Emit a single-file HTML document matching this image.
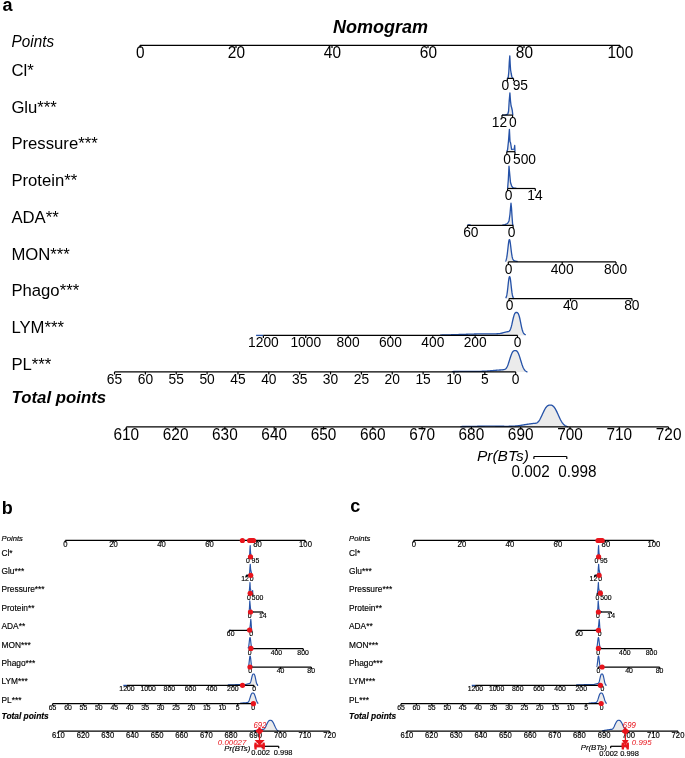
<!DOCTYPE html>
<html><head><meta charset="utf-8"><title>Nomogram</title>
<style>
html,body{margin:0;padding:0;background:#fff;}
svg{display:block;filter:blur(0.3px);}
.sm text{stroke:#000;stroke-width:0.3px;}
</style></head>
<body>
<svg width="685" height="758" viewBox="0 0 685 758" font-family="'Liberation Sans', Arial, Helvetica, sans-serif" fill="#000">
<rect width="685" height="758" fill="#fff"/>
<text x="2.4" y="10.9" font-size="18" font-weight="bold">a</text>
<text x="333.1" y="33" font-size="18" font-weight="bold" font-style="italic">Nomogram</text>
<g id="pa">
<text transform="translate(11.6,46.7) scale(1,1.04)" font-size="15.3" font-style="italic">Points</text>
<line x1="140" y1="45.3" x2="620" y2="45.3" stroke="#000" stroke-width="1.2"/>
<line x1="140" y1="45.3" x2="140" y2="47.9" stroke="#000" stroke-width="1.2"/>
<text transform="translate(140.4,57.9) scale(1,1.06)" font-size="15.4" text-anchor="middle">0</text>
<line x1="236" y1="45.3" x2="236" y2="47.9" stroke="#000" stroke-width="1.2"/>
<text transform="translate(236.4,57.9) scale(1,1.06)" font-size="15.4" text-anchor="middle">20</text>
<line x1="332" y1="45.3" x2="332" y2="47.9" stroke="#000" stroke-width="1.2"/>
<text transform="translate(332.4,57.9) scale(1,1.06)" font-size="15.4" text-anchor="middle">40</text>
<line x1="428" y1="45.3" x2="428" y2="47.9" stroke="#000" stroke-width="1.2"/>
<text transform="translate(428.4,57.9) scale(1,1.06)" font-size="15.4" text-anchor="middle">60</text>
<line x1="524" y1="45.3" x2="524" y2="47.9" stroke="#000" stroke-width="1.2"/>
<text transform="translate(524.4,57.9) scale(1,1.06)" font-size="15.4" text-anchor="middle">80</text>
<line x1="620" y1="45.3" x2="620" y2="47.9" stroke="#000" stroke-width="1.2"/>
<text transform="translate(620.4,57.9) scale(1,1.06)" font-size="15.4" text-anchor="middle">100</text>
<text x="11.4" y="76.1" font-size="16.7">Cl*</text>
<path d="M507.3,78.4 L507.3,78.4 L508.2,77.6 L508.8,72 L509.3,62 L509.8,55.8 L510.2,64 L510.6,70 L511.2,73.5 L511.8,76.5 L512.5,78 L513.4,78.4 L513.4,78.4 Z" fill="#ebebeb" stroke="none"/><path d="M507.3,78.4 L508.2,77.6 L508.8,72 L509.3,62 L509.8,55.8 L510.2,64 L510.6,70 L511.2,73.5 L511.8,76.5 L512.5,78 L513.4,78.4" fill="none" stroke="#2552a8" stroke-width="1.32" stroke-linejoin="round"/>
<line x1="507.3" y1="78.4" x2="513.5" y2="78.4" stroke="#000" stroke-width="1.2"/>
<line x1="507.3" y1="78.4" x2="507.3" y2="81" stroke="#000" stroke-width="1.2"/>
<line x1="513.5" y1="78.4" x2="513.5" y2="81" stroke="#000" stroke-width="1.2"/>
<text transform="translate(505.3,90.2) scale(1,1.03)" font-size="13.8" text-anchor="middle">0</text>
<text transform="translate(520.3,90.2) scale(1,1.03)" font-size="13.8" text-anchor="middle">95</text>
<text x="11.4" y="112.8" font-size="16.7">Glu***</text>
<path d="M502,115.1 L502,115.1 L505.5,114.8 L507.8,114.2 L508.6,111 L509.2,101 L509.9,93 L510.5,101 L511.1,106 L511.6,107.5 L512.3,110.5 L512.8,115.1 L512.8,115.1 Z" fill="#ebebeb" stroke="none"/><path d="M502,115.1 L505.5,114.8 L507.8,114.2 L508.6,111 L509.2,101 L509.9,93 L510.5,101 L511.1,106 L511.6,107.5 L512.3,110.5 L512.8,115.1" fill="none" stroke="#2552a8" stroke-width="1.32" stroke-linejoin="round"/>
<line x1="502.0" y1="115.1" x2="512.6" y2="115.1" stroke="#000" stroke-width="1.2"/>
<line x1="502" y1="115.1" x2="502" y2="117.7" stroke="#000" stroke-width="1.2"/>
<line x1="512.6" y1="115.1" x2="512.6" y2="117.7" stroke="#000" stroke-width="1.2"/>
<text transform="translate(499.4,126.9) scale(1,1.03)" font-size="13.8" text-anchor="middle">12</text>
<text transform="translate(512.8,126.9) scale(1,1.03)" font-size="13.8" text-anchor="middle">0</text>
<text x="11.4" y="149.4" font-size="16.7">Pressure***</text>
<path d="M506.8,151.7 L506.8,151.7 L507.6,149.5 L508.5,141 L509.4,129.4 L510,141.5 L510.6,143 L511.6,149.3 L514.2,149.2 L514.7,145.5 L515,151.7 L515,151.7 Z" fill="#ebebeb" stroke="none"/><path d="M506.8,151.7 L507.6,149.5 L508.5,141 L509.4,129.4 L510,141.5 L510.6,143 L511.6,149.3 L514.2,149.2 L514.7,145.5 L515,151.7" fill="none" stroke="#2552a8" stroke-width="1.32" stroke-linejoin="round"/>
<line x1="506.8" y1="151.7" x2="515.0" y2="151.7" stroke="#000" stroke-width="1.2"/>
<line x1="506.8" y1="151.7" x2="506.8" y2="154.3" stroke="#000" stroke-width="1.2"/>
<line x1="515" y1="151.7" x2="515" y2="154.3" stroke="#000" stroke-width="1.2"/>
<text transform="translate(507.2,163.5) scale(1,1.03)" font-size="13.8" text-anchor="middle">0</text>
<text transform="translate(524.5,163.5) scale(1,1.03)" font-size="13.8" text-anchor="middle">500</text>
<text x="11.4" y="186.2" font-size="16.7">Protein**</text>
<path d="M507.6,188.5 L507.6,188.5 L508.3,180 L509,166.2 L509.8,175 L510.5,182.5 L511.6,185.8 L512.8,187.6 L514,188 L516.5,188.3 L516.5,188.5 Z" fill="#ebebeb" stroke="none"/><path d="M507.6,188.5 L508.3,180 L509,166.2 L509.8,175 L510.5,182.5 L511.6,185.8 L512.8,187.6 L514,188 L516.5,188.3" fill="none" stroke="#2552a8" stroke-width="1.32" stroke-linejoin="round"/>
<line x1="507.6" y1="188.5" x2="535.3" y2="188.5" stroke="#000" stroke-width="1.2"/>
<line x1="507.6" y1="188.5" x2="507.6" y2="191.1" stroke="#000" stroke-width="1.2"/>
<line x1="535.3" y1="188.5" x2="535.3" y2="191.1" stroke="#000" stroke-width="1.2"/>
<text transform="translate(508.5,200.3) scale(1,1.03)" font-size="13.8" text-anchor="middle">0</text>
<text transform="translate(535,200.3) scale(1,1.03)" font-size="13.8" text-anchor="middle">14</text>
<text x="11.4" y="223" font-size="16.7">ADA**</text>
<path d="M467.5,225.3 L467.5,224.9 L469.5,225 L471,225.3 L502,225.3 L505,224.6 L507.5,223.5 L509,221 L510,214 L510.6,207 L511,203.2 L511.5,208 L512,216 L512.6,224 L513.1,225.3 L513.1,225.3 Z" fill="#ebebeb" stroke="none"/><path d="M467.5,224.9 L469.5,225 L471,225.3 M502,225.3 L505,224.6 L507.5,223.5 L509,221 L510,214 L510.6,207 L511,203.2 L511.5,208 L512,216 L512.6,224 L513.1,225.3" fill="none" stroke="#2552a8" stroke-width="1.32" stroke-linejoin="round"/>
<line x1="467.5" y1="225.3" x2="513.1" y2="225.3" stroke="#000" stroke-width="1.2"/>
<line x1="467.5" y1="225.3" x2="467.5" y2="227.9" stroke="#000" stroke-width="1.2"/>
<line x1="513.1" y1="225.3" x2="513.1" y2="227.9" stroke="#000" stroke-width="1.2"/>
<text transform="translate(470.8,237.1) scale(1,1.03)" font-size="13.8" text-anchor="middle">60</text>
<text transform="translate(511.7,237.1) scale(1,1.03)" font-size="13.8" text-anchor="middle">0</text>
<text x="11.4" y="259.6" font-size="16.7">MON***</text>
<path d="M505.3,261.9 L505.3,261.41 L505.55,261.13 L505.8,260.73 L506.05,260.16 L506.3,259.4 L506.55,258.4 L506.79,257.13 L507.04,255.59 L507.29,253.78 L507.54,251.73 L507.79,249.53 L508.04,247.27 L508.29,245.07 L508.54,243.07 L508.79,241.42 L509.04,240.23 L509.29,239.6 L509.54,239.57 L509.78,240.15 L510.03,241.28 L510.28,242.86 L510.53,244.77 L510.78,246.87 L511.03,249.02 L511.28,251.09 L511.53,253.01 L511.78,254.7 L512.03,256.13 L512.28,257.3 L512.53,258.23 L512.77,258.94 L513.02,259.47 L513.27,259.87 L513.52,260.16 L513.77,260.37 L514.02,260.54 L514.27,260.67 L514.52,260.78 L514.77,260.87 L515.02,260.95 L515.27,261.02 L515.52,261.09 L515.76,261.16 L516.01,261.22 L516.26,261.28 L516.51,261.34 L516.76,261.39 L517.01,261.45 L517.26,261.5 L517.51,261.9 L520,261.9 L520,261.9 Z" fill="#ebebeb" stroke="none"/><path d="M505.3,261.41 L505.55,261.13 L505.8,260.73 L506.05,260.16 L506.3,259.4 L506.55,258.4 L506.79,257.13 L507.04,255.59 L507.29,253.78 L507.54,251.73 L507.79,249.53 L508.04,247.27 L508.29,245.07 L508.54,243.07 L508.79,241.42 L509.04,240.23 L509.29,239.6 L509.54,239.57 L509.78,240.15 L510.03,241.28 L510.28,242.86 L510.53,244.77 L510.78,246.87 L511.03,249.02 L511.28,251.09 L511.53,253.01 L511.78,254.7 L512.03,256.13 L512.28,257.3 L512.53,258.23 L512.77,258.94 L513.02,259.47 L513.27,259.87 L513.52,260.16 L513.77,260.37 L514.02,260.54 L514.27,260.67 L514.52,260.78 L514.77,260.87 L515.02,260.95 L515.27,261.02 L515.52,261.09 L515.76,261.16 L516.01,261.22 L516.26,261.28 L516.51,261.34 L516.76,261.39 L517.01,261.45 L517.26,261.5 L517.51,261.9" fill="none" stroke="#2552a8" stroke-width="1.32" stroke-linejoin="round"/>
<line x1="508.3" y1="261.9" x2="616.0" y2="261.9" stroke="#000" stroke-width="1.2"/>
<line x1="508.3" y1="261.9" x2="508.3" y2="264.5" stroke="#000" stroke-width="1.2"/>
<line x1="562.2" y1="261.9" x2="562.2" y2="264.5" stroke="#000" stroke-width="1.2"/>
<line x1="616" y1="261.9" x2="616" y2="264.5" stroke="#000" stroke-width="1.2"/>
<text transform="translate(508.7,273.7) scale(1,1.03)" font-size="13.8" text-anchor="middle">0</text>
<text transform="translate(562.2,273.7) scale(1,1.03)" font-size="13.8" text-anchor="middle">400</text>
<text transform="translate(615.6,273.7) scale(1,1.03)" font-size="13.8" text-anchor="middle">800</text>
<text x="11.4" y="296.3" font-size="16.7">Phago***</text>
<path d="M505.6,298.6 L505.6,298.14 L505.85,297.85 L506.09,297.43 L506.34,296.82 L506.59,295.99 L506.84,294.9 L507.08,293.51 L507.33,291.83 L507.58,289.88 L507.82,287.72 L508.07,285.44 L508.32,283.17 L508.56,281.06 L508.81,279.24 L509.06,277.84 L509.31,276.95 L509.55,276.61 L509.8,276.76 L510.05,277.44 L510.29,278.65 L510.54,280.32 L510.79,282.34 L511.04,284.57 L511.28,286.86 L511.53,289.07 L511.78,291.11 L512.02,292.9 L512.27,294.4 L512.52,295.61 L512.76,296.54 L513.01,297.22 L513.26,297.71 L513.51,298.05 L513.75,298.6 L514,298.6 L514,298.6 Z" fill="#ebebeb" stroke="none"/><path d="M505.6,298.14 L505.85,297.85 L506.09,297.43 L506.34,296.82 L506.59,295.99 L506.84,294.9 L507.08,293.51 L507.33,291.83 L507.58,289.88 L507.82,287.72 L508.07,285.44 L508.32,283.17 L508.56,281.06 L508.81,279.24 L509.06,277.84 L509.31,276.95 L509.55,276.61 L509.8,276.76 L510.05,277.44 L510.29,278.65 L510.54,280.32 L510.79,282.34 L511.04,284.57 L511.28,286.86 L511.53,289.07 L511.78,291.11 L512.02,292.9 L512.27,294.4 L512.52,295.61 L512.76,296.54 L513.01,297.22 L513.26,297.71 L513.51,298.05 L513.75,298.6 L514,298.6" fill="none" stroke="#2552a8" stroke-width="1.32" stroke-linejoin="round"/>
<line x1="509.0" y1="298.6" x2="632.0" y2="298.6" stroke="#000" stroke-width="1.2"/>
<line x1="509" y1="298.6" x2="509" y2="301.2" stroke="#000" stroke-width="1.2"/>
<line x1="570.5" y1="298.6" x2="570.5" y2="301.2" stroke="#000" stroke-width="1.2"/>
<line x1="632" y1="298.6" x2="632" y2="301.2" stroke="#000" stroke-width="1.2"/>
<text transform="translate(509.5,310.4) scale(1,1.03)" font-size="13.8" text-anchor="middle">0</text>
<text transform="translate(570.6,310.4) scale(1,1.03)" font-size="13.8" text-anchor="middle">40</text>
<text transform="translate(631.8,310.4) scale(1,1.03)" font-size="13.8" text-anchor="middle">80</text>
<text x="11.4" y="333.1" font-size="16.7">LYM***</text>
<path d="M256.4,335.4 L256.4,335.4 L440.33,335.4 L440.83,335.05 L441.33,335.04 L441.83,335.02 L442.33,335.01 L442.83,335 L443.33,334.99 L443.83,334.98 L444.33,334.97 L444.83,334.95 L445.33,334.94 L445.83,334.93 L446.33,334.91 L446.83,334.9 L447.33,334.89 L447.83,334.87 L448.33,334.86 L448.83,334.85 L449.33,334.83 L449.83,334.82 L450.33,334.8 L450.83,334.79 L451.33,334.77 L451.83,334.76 L452.33,334.74 L452.83,334.73 L453.33,334.71 L453.83,334.69 L454.33,334.68 L454.83,334.66 L455.33,334.65 L455.83,334.63 L456.33,334.61 L456.83,334.6 L457.33,334.58 L457.83,334.56 L458.33,334.55 L458.82,334.53 L459.32,334.51 L459.82,334.49 L460.32,334.48 L460.82,334.46 L461.32,334.44 L461.82,334.43 L462.32,334.41 L462.82,334.39 L463.32,334.37 L463.82,334.36 L464.32,334.34 L464.82,334.32 L465.32,334.31 L465.82,334.29 L466.32,334.27 L466.82,334.26 L467.32,334.24 L467.82,334.22 L468.32,334.21 L468.82,334.19 L469.32,334.18 L469.82,334.16 L470.32,334.14 L470.82,334.13 L471.32,334.11 L471.82,334.1 L472.32,334.08 L472.82,334.07 L473.32,334.06 L473.82,334.04 L474.32,334.03 L474.82,334.01 L475.32,334 L475.82,333.99 L476.32,333.98 L476.82,333.96 L477.32,333.95 L477.82,333.94 L478.32,333.93 L478.82,333.92 L479.32,333.91 L479.82,333.9 L480.32,333.89 L480.82,333.88 L481.32,333.87 L481.82,333.87 L482.32,333.86 L482.82,333.85 L483.32,333.84 L483.82,333.84 L484.32,333.83 L484.82,333.83 L485.32,333.82 L485.81,333.82 L486.31,333.81 L486.81,333.81 L487.31,333.81 L487.81,333.8 L488.31,333.8 L488.81,333.8 L489.31,333.8 L489.81,333.8 L490.31,333.8 L490.81,333.8 L491.31,333.8 L491.81,333.8 L492.31,333.8 L492.81,333.8 L493.31,333.81 L493.81,333.81 L494.31,333.81 L494.81,333.8 L495.31,333.8 L495.81,333.8 L496.31,333.79 L496.81,333.77 L497.31,333.76 L497.81,333.73 L498.31,333.7 L498.81,333.66 L499.31,333.6 L499.81,333.54 L500.31,333.46 L500.81,333.37 L501.31,333.26 L501.81,333.14 L502.31,333.01 L502.81,332.87 L503.31,332.72 L503.81,332.57 L504.31,332.42 L504.81,332.27 L505.31,332.14 L505.81,332.02 L506.31,331.91 L506.81,331.83 L507.31,331.76 L507.81,331.68 L508.31,331.56 L508.81,331.37 L509.31,331.03 L509.81,330.46 L510.31,329.57 L510.81,328.3 L511.31,326.65 L511.81,324.66 L512.31,322.45 L512.8,320.18 L513.3,318.02 L513.8,316.12 L514.3,314.6 L514.8,313.5 L515.3,312.83 L515.8,312.52 L516.3,312.45 L516.8,312.5 L517.3,312.64 L517.8,313.01 L518.3,313.73 L518.8,314.89 L519.3,316.49 L519.8,318.5 L520.3,320.83 L520.8,323.31 L521.3,325.77 L521.8,328.04 L522.3,330 L522.8,331.57 L523.3,332.73 L523.8,333.54 L524.3,334.05 L524.8,334.36 L525.3,334.53 L525.8,334.63 L525.8,335.4 Z" fill="#ebebeb" stroke="none"/><path d="M440.33,335.4 L440.83,335.05 L441.33,335.04 L441.83,335.02 L442.33,335.01 L442.83,335 L443.33,334.99 L443.83,334.98 L444.33,334.97 L444.83,334.95 L445.33,334.94 L445.83,334.93 L446.33,334.91 L446.83,334.9 L447.33,334.89 L447.83,334.87 L448.33,334.86 L448.83,334.85 L449.33,334.83 L449.83,334.82 L450.33,334.8 L450.83,334.79 L451.33,334.77 L451.83,334.76 L452.33,334.74 L452.83,334.73 L453.33,334.71 L453.83,334.69 L454.33,334.68 L454.83,334.66 L455.33,334.65 L455.83,334.63 L456.33,334.61 L456.83,334.6 L457.33,334.58 L457.83,334.56 L458.33,334.55 L458.82,334.53 L459.32,334.51 L459.82,334.49 L460.32,334.48 L460.82,334.46 L461.32,334.44 L461.82,334.43 L462.32,334.41 L462.82,334.39 L463.32,334.37 L463.82,334.36 L464.32,334.34 L464.82,334.32 L465.32,334.31 L465.82,334.29 L466.32,334.27 L466.82,334.26 L467.32,334.24 L467.82,334.22 L468.32,334.21 L468.82,334.19 L469.32,334.18 L469.82,334.16 L470.32,334.14 L470.82,334.13 L471.32,334.11 L471.82,334.1 L472.32,334.08 L472.82,334.07 L473.32,334.06 L473.82,334.04 L474.32,334.03 L474.82,334.01 L475.32,334 L475.82,333.99 L476.32,333.98 L476.82,333.96 L477.32,333.95 L477.82,333.94 L478.32,333.93 L478.82,333.92 L479.32,333.91 L479.82,333.9 L480.32,333.89 L480.82,333.88 L481.32,333.87 L481.82,333.87 L482.32,333.86 L482.82,333.85 L483.32,333.84 L483.82,333.84 L484.32,333.83 L484.82,333.83 L485.32,333.82 L485.81,333.82 L486.31,333.81 L486.81,333.81 L487.31,333.81 L487.81,333.8 L488.31,333.8 L488.81,333.8 L489.31,333.8 L489.81,333.8 L490.31,333.8 L490.81,333.8 L491.31,333.8 L491.81,333.8 L492.31,333.8 L492.81,333.8 L493.31,333.81 L493.81,333.81 L494.31,333.81 L494.81,333.8 L495.31,333.8 L495.81,333.8 L496.31,333.79 L496.81,333.77 L497.31,333.76 L497.81,333.73 L498.31,333.7 L498.81,333.66 L499.31,333.6 L499.81,333.54 L500.31,333.46 L500.81,333.37 L501.31,333.26 L501.81,333.14 L502.31,333.01 L502.81,332.87 L503.31,332.72 L503.81,332.57 L504.31,332.42 L504.81,332.27 L505.31,332.14 L505.81,332.02 L506.31,331.91 L506.81,331.83 L507.31,331.76 L507.81,331.68 L508.31,331.56 L508.81,331.37 L509.31,331.03 L509.81,330.46 L510.31,329.57 L510.81,328.3 L511.31,326.65 L511.81,324.66 L512.31,322.45 L512.8,320.18 L513.3,318.02 L513.8,316.12 L514.3,314.6 L514.8,313.5 L515.3,312.83 L515.8,312.52 L516.3,312.45 L516.8,312.5 L517.3,312.64 L517.8,313.01 L518.3,313.73 L518.8,314.89 L519.3,316.49 L519.8,318.5 L520.3,320.83 L520.8,323.31 L521.3,325.77 L521.8,328.04 L522.3,330 L522.8,331.57 L523.3,332.73 L523.8,333.54 L524.3,334.05 L524.8,334.36 L525.3,334.53 L525.8,334.63" fill="none" stroke="#2552a8" stroke-width="1.32" stroke-linejoin="round"/>
<line x1="263.3" y1="335.4" x2="517.6" y2="335.4" stroke="#000" stroke-width="1.2"/>
<line x1="256.1" y1="335.4" x2="263.3" y2="335.4" stroke="#2552a8" stroke-width="1.32"/>
<line x1="517.5" y1="335.4" x2="517.5" y2="338" stroke="#000" stroke-width="1.2"/>
<line x1="475.15" y1="335.4" x2="475.15" y2="338" stroke="#000" stroke-width="1.2"/>
<line x1="432.8" y1="335.4" x2="432.8" y2="338" stroke="#000" stroke-width="1.2"/>
<line x1="390.45" y1="335.4" x2="390.45" y2="338" stroke="#000" stroke-width="1.2"/>
<line x1="348.1" y1="335.4" x2="348.1" y2="338" stroke="#000" stroke-width="1.2"/>
<line x1="305.75" y1="335.4" x2="305.75" y2="338" stroke="#000" stroke-width="1.2"/>
<line x1="263.4" y1="335.4" x2="263.4" y2="338" stroke="#000" stroke-width="1.2"/>
<text transform="translate(517.5,347.2) scale(1,1.03)" font-size="13.8" text-anchor="middle">0</text>
<text transform="translate(475.15,347.2) scale(1,1.03)" font-size="13.8" text-anchor="middle">200</text>
<text transform="translate(432.8,347.2) scale(1,1.03)" font-size="13.8" text-anchor="middle">400</text>
<text transform="translate(390.45,347.2) scale(1,1.03)" font-size="13.8" text-anchor="middle">600</text>
<text transform="translate(348.1,347.2) scale(1,1.03)" font-size="13.8" text-anchor="middle">800</text>
<text transform="translate(305.75,347.2) scale(1,1.03)" font-size="13.8" text-anchor="middle">1000</text>
<text transform="translate(263.4,347.2) scale(1,1.03)" font-size="13.8" text-anchor="middle">1200</text>
<text x="11.4" y="369.6" font-size="16.7">PL***</text>
<path d="M114.5,371.9 L114.5,371.9 L452,371.9 L452.5,371.54 L453,371.54 L453.5,371.53 L454,371.52 L454.5,371.52 L455,371.51 L455.5,371.5 L456,371.5 L456.5,371.49 L457,371.49 L457.5,371.48 L458,371.47 L458.5,371.47 L459,371.46 L459.5,371.46 L460,371.45 L460.5,371.45 L461,371.44 L461.5,371.44 L462,371.43 L462.5,371.43 L463,371.43 L463.5,371.42 L464,371.42 L464.5,371.42 L465,371.41 L465.5,371.41 L466,371.41 L466.5,371.4 L467,371.4 L467.5,371.4 L468,371.4 L468.5,371.4 L469,371.4 L469.5,371.39 L470,371.39 L470.5,371.39 L471,371.39 L471.5,371.39 L472,371.39 L472.5,371.39 L473,371.39 L473.5,371.39 L474,371.38 L474.5,371.38 L475,371.38 L475.5,371.38 L476,371.38 L476.5,371.37 L477,371.37 L477.5,371.37 L478,371.36 L478.5,371.35 L479,371.35 L479.5,371.34 L480,371.33 L480.5,371.32 L481,371.31 L481.5,371.3 L482,371.28 L482.5,371.27 L483,371.25 L483.5,371.23 L484,371.21 L484.5,371.19 L485,371.17 L485.5,371.14 L486,371.11 L486.5,371.08 L487,371.05 L487.5,371.02 L488,370.98 L488.5,370.94 L489,370.9 L489.5,370.86 L490,370.82 L490.5,370.78 L491,370.73 L491.5,370.68 L492,370.64 L492.5,370.59 L493,370.54 L493.5,370.49 L494,370.45 L494.5,370.4 L495,370.35 L495.5,370.31 L496,370.26 L496.5,370.22 L497,370.18 L497.5,370.14 L498,370.11 L498.5,370.07 L499,370.04 L499.5,370.02 L500,369.99 L500.5,369.97 L501,369.94 L501.5,369.92 L502,369.88 L502.5,369.83 L503,369.75 L503.5,369.66 L504,369.58 L504.5,369.47 L505,369.29 L505.5,368.99 L506,368.53 L506.5,367.89 L507,367.04 L507.5,365.98 L508,364.72 L508.5,363.29 L509,361.74 L509.5,360.12 L510,358.5 L510.5,356.93 L511,355.47 L511.5,354.16 L512,353.05 L512.5,352.15 L513,351.47 L513.5,351 L514,350.71 L514.5,350.58 L515,350.55 L515.5,350.56 L516,350.65 L516.5,350.88 L517,351.28 L517.5,351.88 L518,352.7 L518.5,353.73 L519,354.97 L519.5,356.39 L520,357.94 L520.5,359.57 L521,361.24 L521.5,362.88 L522,364.43 L522.5,365.87 L523,367.15 L523.5,368.26 L524,369.18 L524.5,369.92 L525,370.5 L525.5,370.94 L526,371.26 L526.5,371.49 L527,371.9 L527.5,371.9 L527.5,371.9 Z" fill="#ebebeb" stroke="none"/><path d="M452,371.9 L452.5,371.54 L453,371.54 L453.5,371.53 L454,371.52 L454.5,371.52 L455,371.51 L455.5,371.5 L456,371.5 L456.5,371.49 L457,371.49 L457.5,371.48 L458,371.47 L458.5,371.47 L459,371.46 L459.5,371.46 L460,371.45 L460.5,371.45 L461,371.44 L461.5,371.44 L462,371.43 L462.5,371.43 L463,371.43 L463.5,371.42 L464,371.42 L464.5,371.42 L465,371.41 L465.5,371.41 L466,371.41 L466.5,371.4 L467,371.4 L467.5,371.4 L468,371.4 L468.5,371.4 L469,371.4 L469.5,371.39 L470,371.39 L470.5,371.39 L471,371.39 L471.5,371.39 L472,371.39 L472.5,371.39 L473,371.39 L473.5,371.39 L474,371.38 L474.5,371.38 L475,371.38 L475.5,371.38 L476,371.38 L476.5,371.37 L477,371.37 L477.5,371.37 L478,371.36 L478.5,371.35 L479,371.35 L479.5,371.34 L480,371.33 L480.5,371.32 L481,371.31 L481.5,371.3 L482,371.28 L482.5,371.27 L483,371.25 L483.5,371.23 L484,371.21 L484.5,371.19 L485,371.17 L485.5,371.14 L486,371.11 L486.5,371.08 L487,371.05 L487.5,371.02 L488,370.98 L488.5,370.94 L489,370.9 L489.5,370.86 L490,370.82 L490.5,370.78 L491,370.73 L491.5,370.68 L492,370.64 L492.5,370.59 L493,370.54 L493.5,370.49 L494,370.45 L494.5,370.4 L495,370.35 L495.5,370.31 L496,370.26 L496.5,370.22 L497,370.18 L497.5,370.14 L498,370.11 L498.5,370.07 L499,370.04 L499.5,370.02 L500,369.99 L500.5,369.97 L501,369.94 L501.5,369.92 L502,369.88 L502.5,369.83 L503,369.75 L503.5,369.66 L504,369.58 L504.5,369.47 L505,369.29 L505.5,368.99 L506,368.53 L506.5,367.89 L507,367.04 L507.5,365.98 L508,364.72 L508.5,363.29 L509,361.74 L509.5,360.12 L510,358.5 L510.5,356.93 L511,355.47 L511.5,354.16 L512,353.05 L512.5,352.15 L513,351.47 L513.5,351 L514,350.71 L514.5,350.58 L515,350.55 L515.5,350.56 L516,350.65 L516.5,350.88 L517,351.28 L517.5,351.88 L518,352.7 L518.5,353.73 L519,354.97 L519.5,356.39 L520,357.94 L520.5,359.57 L521,361.24 L521.5,362.88 L522,364.43 L522.5,365.87 L523,367.15 L523.5,368.26 L524,369.18 L524.5,369.92 L525,370.5 L525.5,370.94 L526,371.26 L526.5,371.49 L527,371.9 L527.5,371.9" fill="none" stroke="#2552a8" stroke-width="1.32" stroke-linejoin="round"/>
<line x1="114.5" y1="371.9" x2="515.8" y2="371.9" stroke="#000" stroke-width="1.2"/>
<line x1="515.7" y1="371.9" x2="515.7" y2="374.5" stroke="#000" stroke-width="1.2"/>
<line x1="484.84" y1="371.9" x2="484.84" y2="374.5" stroke="#000" stroke-width="1.2"/>
<line x1="453.98" y1="371.9" x2="453.98" y2="374.5" stroke="#000" stroke-width="1.2"/>
<line x1="423.12" y1="371.9" x2="423.12" y2="374.5" stroke="#000" stroke-width="1.2"/>
<line x1="392.26" y1="371.9" x2="392.26" y2="374.5" stroke="#000" stroke-width="1.2"/>
<line x1="361.4" y1="371.9" x2="361.4" y2="374.5" stroke="#000" stroke-width="1.2"/>
<line x1="330.54" y1="371.9" x2="330.54" y2="374.5" stroke="#000" stroke-width="1.2"/>
<line x1="299.68" y1="371.9" x2="299.68" y2="374.5" stroke="#000" stroke-width="1.2"/>
<line x1="268.82" y1="371.9" x2="268.82" y2="374.5" stroke="#000" stroke-width="1.2"/>
<line x1="237.96" y1="371.9" x2="237.96" y2="374.5" stroke="#000" stroke-width="1.2"/>
<line x1="207.1" y1="371.9" x2="207.1" y2="374.5" stroke="#000" stroke-width="1.2"/>
<line x1="176.24" y1="371.9" x2="176.24" y2="374.5" stroke="#000" stroke-width="1.2"/>
<line x1="145.38" y1="371.9" x2="145.38" y2="374.5" stroke="#000" stroke-width="1.2"/>
<line x1="114.52" y1="371.9" x2="114.52" y2="374.5" stroke="#000" stroke-width="1.2"/>
<text transform="translate(515.7,383.7) scale(1,1.03)" font-size="13.8" text-anchor="middle">0</text>
<text transform="translate(484.84,383.7) scale(1,1.03)" font-size="13.8" text-anchor="middle">5</text>
<text transform="translate(453.98,383.7) scale(1,1.03)" font-size="13.8" text-anchor="middle">10</text>
<text transform="translate(423.12,383.7) scale(1,1.03)" font-size="13.8" text-anchor="middle">15</text>
<text transform="translate(392.26,383.7) scale(1,1.03)" font-size="13.8" text-anchor="middle">20</text>
<text transform="translate(361.4,383.7) scale(1,1.03)" font-size="13.8" text-anchor="middle">25</text>
<text transform="translate(330.54,383.7) scale(1,1.03)" font-size="13.8" text-anchor="middle">30</text>
<text transform="translate(299.68,383.7) scale(1,1.03)" font-size="13.8" text-anchor="middle">35</text>
<text transform="translate(268.82,383.7) scale(1,1.03)" font-size="13.8" text-anchor="middle">40</text>
<text transform="translate(237.96,383.7) scale(1,1.03)" font-size="13.8" text-anchor="middle">45</text>
<text transform="translate(207.1,383.7) scale(1,1.03)" font-size="13.8" text-anchor="middle">50</text>
<text transform="translate(176.24,383.7) scale(1,1.03)" font-size="13.8" text-anchor="middle">55</text>
<text transform="translate(145.38,383.7) scale(1,1.03)" font-size="13.8" text-anchor="middle">60</text>
<text transform="translate(114.52,383.7) scale(1,1.03)" font-size="13.8" text-anchor="middle">65</text>
<text x="11.6" y="402.6" font-size="16.8" font-style="italic" font-weight="bold">Total points</text>
<path d="M126.3,426.9 L126.3,426.9 L460.45,426.9 L460.95,426.55 L461.45,426.54 L461.95,426.53 L462.45,426.52 L462.95,426.51 L463.45,426.51 L463.95,426.5 L464.45,426.49 L464.95,426.48 L465.45,426.47 L465.95,426.46 L466.45,426.45 L466.95,426.45 L467.45,426.44 L467.95,426.43 L468.45,426.42 L468.95,426.41 L469.45,426.4 L469.95,426.4 L470.45,426.39 L470.96,426.38 L471.46,426.37 L471.96,426.36 L472.46,426.36 L472.96,426.35 L473.46,426.34 L473.96,426.33 L474.46,426.33 L474.96,426.32 L475.46,426.31 L475.96,426.3 L476.46,426.3 L476.96,426.29 L477.46,426.28 L477.96,426.28 L478.46,426.27 L478.96,426.27 L479.46,426.26 L479.96,426.26 L480.46,426.25 L480.96,426.25 L481.46,426.24 L481.96,426.24 L482.46,426.23 L482.96,426.23 L483.46,426.22 L483.96,426.22 L484.46,426.22 L484.96,426.21 L485.46,426.21 L485.96,426.21 L486.46,426.21 L486.96,426.21 L487.46,426.2 L487.96,426.2 L488.46,426.2 L488.96,426.2 L489.46,426.2 L489.96,426.2 L490.46,426.2 L490.96,426.2 L491.46,426.2 L491.96,426.2 L492.46,426.2 L492.96,426.2 L493.47,426.21 L493.97,426.21 L494.47,426.21 L494.97,426.21 L495.47,426.22 L495.97,426.22 L496.47,426.22 L496.97,426.23 L497.47,426.23 L497.97,426.23 L498.47,426.24 L498.97,426.24 L499.47,426.25 L499.97,426.25 L500.47,426.25 L500.97,426.26 L501.47,426.26 L501.97,426.27 L502.47,426.27 L502.97,426.28 L503.47,426.28 L503.97,426.28 L504.47,426.29 L504.97,426.29 L505.47,426.29 L505.97,426.29 L506.47,426.29 L506.97,426.29 L507.47,426.29 L507.97,426.29 L508.47,426.29 L508.97,426.28 L509.47,426.28 L509.97,426.27 L510.47,426.26 L510.97,426.25 L511.47,426.23 L511.97,426.22 L512.47,426.2 L512.97,426.17 L513.47,426.15 L513.97,426.12 L514.47,426.09 L514.97,426.06 L515.48,426.02 L515.98,425.97 L516.48,425.93 L516.98,425.88 L517.48,425.83 L517.98,425.77 L518.48,425.71 L518.98,425.64 L519.48,425.57 L519.98,425.5 L520.48,425.43 L520.98,425.35 L521.48,425.27 L521.98,425.18 L522.48,425.1 L522.98,425.01 L523.48,424.92 L523.98,424.84 L524.48,424.75 L524.98,424.66 L525.48,424.57 L525.98,424.49 L526.48,424.41 L526.98,424.33 L527.48,424.25 L527.98,424.17 L528.48,424.1 L528.98,424.04 L529.48,423.97 L529.98,423.91 L530.48,423.84 L530.98,423.78 L531.48,423.71 L531.98,423.64 L532.48,423.55 L532.98,423.45 L533.48,423.36 L533.98,423.32 L534.48,423.3 L534.98,423.3 L535.48,423.27 L535.98,423.21 L536.48,423.07 L536.98,422.85 L537.48,422.53 L537.99,422.1 L538.49,421.55 L538.99,420.9 L539.49,420.13 L539.99,419.27 L540.49,418.33 L540.99,417.32 L541.49,416.27 L541.99,415.18 L542.49,414.08 L542.99,412.99 L543.49,411.93 L543.99,410.9 L544.49,409.93 L544.99,409.03 L545.49,408.21 L545.99,407.48 L546.49,406.85 L546.99,406.32 L547.49,405.9 L547.99,405.57 L548.49,405.33 L548.99,405.17 L549.49,405.09 L549.99,405.06 L550.49,405.07 L550.99,405.11 L551.49,405.2 L551.99,405.37 L552.49,405.63 L552.99,405.98 L553.49,406.43 L553.99,406.98 L554.49,407.63 L554.99,408.37 L555.49,409.21 L555.99,410.13 L556.49,411.11 L556.99,412.15 L557.49,413.23 L557.99,414.34 L558.49,415.46 L558.99,416.56 L559.49,417.65 L560,418.69 L560.5,419.69 L561,420.63 L561.5,421.5 L562,422.3 L562.5,423.02 L563,423.66 L563.5,424.23 L564,424.72 L564.5,425.14 L565,425.49 L565.5,425.79 L566,426.03 L566.5,426.23 L567,426.39 L567.5,426.52 L568,426.9 L571,426.9 L571,426.9 Z" fill="#ebebeb" stroke="none"/><path d="M460.45,426.9 L460.95,426.55 L461.45,426.54 L461.95,426.53 L462.45,426.52 L462.95,426.51 L463.45,426.51 L463.95,426.5 L464.45,426.49 L464.95,426.48 L465.45,426.47 L465.95,426.46 L466.45,426.45 L466.95,426.45 L467.45,426.44 L467.95,426.43 L468.45,426.42 L468.95,426.41 L469.45,426.4 L469.95,426.4 L470.45,426.39 L470.96,426.38 L471.46,426.37 L471.96,426.36 L472.46,426.36 L472.96,426.35 L473.46,426.34 L473.96,426.33 L474.46,426.33 L474.96,426.32 L475.46,426.31 L475.96,426.3 L476.46,426.3 L476.96,426.29 L477.46,426.28 L477.96,426.28 L478.46,426.27 L478.96,426.27 L479.46,426.26 L479.96,426.26 L480.46,426.25 L480.96,426.25 L481.46,426.24 L481.96,426.24 L482.46,426.23 L482.96,426.23 L483.46,426.22 L483.96,426.22 L484.46,426.22 L484.96,426.21 L485.46,426.21 L485.96,426.21 L486.46,426.21 L486.96,426.21 L487.46,426.2 L487.96,426.2 L488.46,426.2 L488.96,426.2 L489.46,426.2 L489.96,426.2 L490.46,426.2 L490.96,426.2 L491.46,426.2 L491.96,426.2 L492.46,426.2 L492.96,426.2 L493.47,426.21 L493.97,426.21 L494.47,426.21 L494.97,426.21 L495.47,426.22 L495.97,426.22 L496.47,426.22 L496.97,426.23 L497.47,426.23 L497.97,426.23 L498.47,426.24 L498.97,426.24 L499.47,426.25 L499.97,426.25 L500.47,426.25 L500.97,426.26 L501.47,426.26 L501.97,426.27 L502.47,426.27 L502.97,426.28 L503.47,426.28 L503.97,426.28 L504.47,426.29 L504.97,426.29 L505.47,426.29 L505.97,426.29 L506.47,426.29 L506.97,426.29 L507.47,426.29 L507.97,426.29 L508.47,426.29 L508.97,426.28 L509.47,426.28 L509.97,426.27 L510.47,426.26 L510.97,426.25 L511.47,426.23 L511.97,426.22 L512.47,426.2 L512.97,426.17 L513.47,426.15 L513.97,426.12 L514.47,426.09 L514.97,426.06 L515.48,426.02 L515.98,425.97 L516.48,425.93 L516.98,425.88 L517.48,425.83 L517.98,425.77 L518.48,425.71 L518.98,425.64 L519.48,425.57 L519.98,425.5 L520.48,425.43 L520.98,425.35 L521.48,425.27 L521.98,425.18 L522.48,425.1 L522.98,425.01 L523.48,424.92 L523.98,424.84 L524.48,424.75 L524.98,424.66 L525.48,424.57 L525.98,424.49 L526.48,424.41 L526.98,424.33 L527.48,424.25 L527.98,424.17 L528.48,424.1 L528.98,424.04 L529.48,423.97 L529.98,423.91 L530.48,423.84 L530.98,423.78 L531.48,423.71 L531.98,423.64 L532.48,423.55 L532.98,423.45 L533.48,423.36 L533.98,423.32 L534.48,423.3 L534.98,423.3 L535.48,423.27 L535.98,423.21 L536.48,423.07 L536.98,422.85 L537.48,422.53 L537.99,422.1 L538.49,421.55 L538.99,420.9 L539.49,420.13 L539.99,419.27 L540.49,418.33 L540.99,417.32 L541.49,416.27 L541.99,415.18 L542.49,414.08 L542.99,412.99 L543.49,411.93 L543.99,410.9 L544.49,409.93 L544.99,409.03 L545.49,408.21 L545.99,407.48 L546.49,406.85 L546.99,406.32 L547.49,405.9 L547.99,405.57 L548.49,405.33 L548.99,405.17 L549.49,405.09 L549.99,405.06 L550.49,405.07 L550.99,405.11 L551.49,405.2 L551.99,405.37 L552.49,405.63 L552.99,405.98 L553.49,406.43 L553.99,406.98 L554.49,407.63 L554.99,408.37 L555.49,409.21 L555.99,410.13 L556.49,411.11 L556.99,412.15 L557.49,413.23 L557.99,414.34 L558.49,415.46 L558.99,416.56 L559.49,417.65 L560,418.69 L560.5,419.69 L561,420.63 L561.5,421.5 L562,422.3 L562.5,423.02 L563,423.66 L563.5,424.23 L564,424.72 L564.5,425.14 L565,425.49 L565.5,425.79 L566,426.03 L566.5,426.23 L567,426.39 L567.5,426.52 L568,426.9" fill="none" stroke="#2552a8" stroke-width="1.32" stroke-linejoin="round"/>
<line x1="126.3" y1="426.9" x2="668.6" y2="426.9" stroke="#000" stroke-width="1.2"/>
<line x1="126.3" y1="426.9" x2="126.3" y2="429.5" stroke="#000" stroke-width="1.2"/>
<text transform="translate(126.3,439.5) scale(1,1.06)" font-size="15.4" text-anchor="middle">610</text>
<line x1="175.6" y1="426.9" x2="175.6" y2="429.5" stroke="#000" stroke-width="1.2"/>
<text transform="translate(175.6,439.5) scale(1,1.06)" font-size="15.4" text-anchor="middle">620</text>
<line x1="224.9" y1="426.9" x2="224.9" y2="429.5" stroke="#000" stroke-width="1.2"/>
<text transform="translate(224.9,439.5) scale(1,1.06)" font-size="15.4" text-anchor="middle">630</text>
<line x1="274.2" y1="426.9" x2="274.2" y2="429.5" stroke="#000" stroke-width="1.2"/>
<text transform="translate(274.2,439.5) scale(1,1.06)" font-size="15.4" text-anchor="middle">640</text>
<line x1="323.5" y1="426.9" x2="323.5" y2="429.5" stroke="#000" stroke-width="1.2"/>
<text transform="translate(323.5,439.5) scale(1,1.06)" font-size="15.4" text-anchor="middle">650</text>
<line x1="372.8" y1="426.9" x2="372.8" y2="429.5" stroke="#000" stroke-width="1.2"/>
<text transform="translate(372.8,439.5) scale(1,1.06)" font-size="15.4" text-anchor="middle">660</text>
<line x1="422.1" y1="426.9" x2="422.1" y2="429.5" stroke="#000" stroke-width="1.2"/>
<text transform="translate(422.1,439.5) scale(1,1.06)" font-size="15.4" text-anchor="middle">670</text>
<line x1="471.4" y1="426.9" x2="471.4" y2="429.5" stroke="#000" stroke-width="1.2"/>
<text transform="translate(471.4,439.5) scale(1,1.06)" font-size="15.4" text-anchor="middle">680</text>
<line x1="520.7" y1="426.9" x2="520.7" y2="429.5" stroke="#000" stroke-width="1.2"/>
<text transform="translate(520.7,439.5) scale(1,1.06)" font-size="15.4" text-anchor="middle">690</text>
<line x1="570" y1="426.9" x2="570" y2="429.5" stroke="#000" stroke-width="1.2"/>
<text transform="translate(570,439.5) scale(1,1.06)" font-size="15.4" text-anchor="middle">700</text>
<line x1="619.3" y1="426.9" x2="619.3" y2="429.5" stroke="#000" stroke-width="1.2"/>
<text transform="translate(619.3,439.5) scale(1,1.06)" font-size="15.4" text-anchor="middle">710</text>
<line x1="668.6" y1="426.9" x2="668.6" y2="429.5" stroke="#000" stroke-width="1.2"/>
<text transform="translate(668.6,439.5) scale(1,1.06)" font-size="15.4" text-anchor="middle">720</text>
<text x="476.9" y="460.8" font-size="15.5" font-style="italic">Pr(BTs)</text>
<line x1="533.9" y1="456.5" x2="566.8" y2="456.5" stroke="#000" stroke-width="1.2"/>
<line x1="533.9" y1="456.5" x2="533.9" y2="459.1" stroke="#000" stroke-width="1.2"/>
<line x1="566.8" y1="456.5" x2="566.8" y2="459.1" stroke="#000" stroke-width="1.2"/>
<text transform="translate(530.5,477.3) scale(1,1.06)" font-size="15.3" text-anchor="middle">0.002</text>
<text transform="translate(577.3,477.3) scale(1,1.06)" font-size="15.3" text-anchor="middle">0.998</text>
</g>
<text x="1.7" y="514" font-size="18" font-weight="bold">b</text>
<g transform="translate(-4.7,517.75) scale(0.5)" class="sm">
<text transform="translate(12.6,46.7) scale(1,1.04)" font-size="15.3" font-style="italic">Points</text>
<line x1="140" y1="45.3" x2="620" y2="45.3" stroke="#000" stroke-width="2.5"/>
<line x1="140" y1="45.3" x2="140" y2="49.3" stroke="#000" stroke-width="2.5"/>
<text transform="translate(140.4,57.9) scale(1,1.06)" font-size="15.4" text-anchor="middle">0</text>
<line x1="236" y1="45.3" x2="236" y2="49.3" stroke="#000" stroke-width="2.5"/>
<text transform="translate(236.4,57.9) scale(1,1.06)" font-size="15.4" text-anchor="middle">20</text>
<line x1="332" y1="45.3" x2="332" y2="49.3" stroke="#000" stroke-width="2.5"/>
<text transform="translate(332.4,57.9) scale(1,1.06)" font-size="15.4" text-anchor="middle">40</text>
<line x1="428" y1="45.3" x2="428" y2="49.3" stroke="#000" stroke-width="2.5"/>
<text transform="translate(428.4,57.9) scale(1,1.06)" font-size="15.4" text-anchor="middle">60</text>
<line x1="524" y1="45.3" x2="524" y2="49.3" stroke="#000" stroke-width="2.5"/>
<text transform="translate(524.4,57.9) scale(1,1.06)" font-size="15.4" text-anchor="middle">80</text>
<line x1="620" y1="45.3" x2="620" y2="49.3" stroke="#000" stroke-width="2.5"/>
<text transform="translate(620.4,57.9) scale(1,1.06)" font-size="15.4" text-anchor="middle">100</text>
<text x="12.4" y="76.1" font-size="16.7">Cl*</text>
<path d="M507.3,78.4 L507.3,78.4 L508.2,77.6 L508.8,72 L509.3,62 L509.8,55.8 L510.2,64 L510.6,70 L511.2,73.5 L511.8,76.5 L512.5,78 L513.4,78.4 L513.4,78.4 Z" fill="#ebebeb" stroke="none"/><path d="M507.3,78.4 L508.2,77.6 L508.8,72 L509.3,62 L509.8,55.8 L510.2,64 L510.6,70 L511.2,73.5 L511.8,76.5 L512.5,78 L513.4,78.4" fill="none" stroke="#2552a8" stroke-width="2.3" stroke-linejoin="round"/>
<line x1="507.3" y1="78.4" x2="513.5" y2="78.4" stroke="#000" stroke-width="2.5"/>
<line x1="507.3" y1="78.4" x2="507.3" y2="82.4" stroke="#000" stroke-width="2.5"/>
<line x1="513.5" y1="78.4" x2="513.5" y2="82.4" stroke="#000" stroke-width="2.5"/>
<text transform="translate(505.3,90.2) scale(1,1.03)" font-size="13.8" text-anchor="middle">0</text>
<text transform="translate(520.3,90.2) scale(1,1.03)" font-size="13.8" text-anchor="middle">95</text>
<text x="12.4" y="112.8" font-size="16.7">Glu***</text>
<path d="M502,115.1 L502,115.1 L505.5,114.8 L507.8,114.2 L508.6,111 L509.2,101 L509.9,93 L510.5,101 L511.1,106 L511.6,107.5 L512.3,110.5 L512.8,115.1 L512.8,115.1 Z" fill="#ebebeb" stroke="none"/><path d="M502,115.1 L505.5,114.8 L507.8,114.2 L508.6,111 L509.2,101 L509.9,93 L510.5,101 L511.1,106 L511.6,107.5 L512.3,110.5 L512.8,115.1" fill="none" stroke="#2552a8" stroke-width="2.3" stroke-linejoin="round"/>
<line x1="502.0" y1="115.1" x2="512.6" y2="115.1" stroke="#000" stroke-width="2.5"/>
<line x1="502" y1="115.1" x2="502" y2="119.1" stroke="#000" stroke-width="2.5"/>
<line x1="512.6" y1="115.1" x2="512.6" y2="119.1" stroke="#000" stroke-width="2.5"/>
<text transform="translate(499.4,126.9) scale(1,1.03)" font-size="13.8" text-anchor="middle">12</text>
<text transform="translate(512.8,126.9) scale(1,1.03)" font-size="13.8" text-anchor="middle">0</text>
<text x="12.4" y="149.4" font-size="16.7">Pressure***</text>
<path d="M506.8,151.7 L506.8,151.7 L507.6,149.5 L508.5,141 L509.4,129.4 L510,141.5 L510.6,143 L511.6,149.3 L514.2,149.2 L514.7,145.5 L515,151.7 L515,151.7 Z" fill="#ebebeb" stroke="none"/><path d="M506.8,151.7 L507.6,149.5 L508.5,141 L509.4,129.4 L510,141.5 L510.6,143 L511.6,149.3 L514.2,149.2 L514.7,145.5 L515,151.7" fill="none" stroke="#2552a8" stroke-width="2.3" stroke-linejoin="round"/>
<line x1="506.8" y1="151.7" x2="515.0" y2="151.7" stroke="#000" stroke-width="2.5"/>
<line x1="506.8" y1="151.7" x2="506.8" y2="155.7" stroke="#000" stroke-width="2.5"/>
<line x1="515" y1="151.7" x2="515" y2="155.7" stroke="#000" stroke-width="2.5"/>
<text transform="translate(507.2,163.5) scale(1,1.03)" font-size="13.8" text-anchor="middle">0</text>
<text transform="translate(524.5,163.5) scale(1,1.03)" font-size="13.8" text-anchor="middle">500</text>
<text x="12.4" y="186.2" font-size="16.7">Protein**</text>
<path d="M507.6,188.5 L507.6,188.5 L508.3,180 L509,166.2 L509.8,175 L510.5,182.5 L511.6,185.8 L512.8,187.6 L514,188 L516.5,188.3 L516.5,188.5 Z" fill="#ebebeb" stroke="none"/><path d="M507.6,188.5 L508.3,180 L509,166.2 L509.8,175 L510.5,182.5 L511.6,185.8 L512.8,187.6 L514,188 L516.5,188.3" fill="none" stroke="#2552a8" stroke-width="2.3" stroke-linejoin="round"/>
<line x1="507.6" y1="188.5" x2="535.3" y2="188.5" stroke="#000" stroke-width="2.5"/>
<line x1="507.6" y1="188.5" x2="507.6" y2="192.5" stroke="#000" stroke-width="2.5"/>
<line x1="535.3" y1="188.5" x2="535.3" y2="192.5" stroke="#000" stroke-width="2.5"/>
<text transform="translate(508.5,200.3) scale(1,1.03)" font-size="13.8" text-anchor="middle">0</text>
<text transform="translate(535,200.3) scale(1,1.03)" font-size="13.8" text-anchor="middle">14</text>
<text x="12.4" y="223" font-size="16.7">ADA**</text>
<path d="M467.5,225.3 L467.5,224.9 L469.5,225 L471,225.3 L502,225.3 L505,224.6 L507.5,223.5 L509,221 L510,214 L510.6,207 L511,203.2 L511.5,208 L512,216 L512.6,224 L513.1,225.3 L513.1,225.3 Z" fill="#ebebeb" stroke="none"/><path d="M467.5,224.9 L469.5,225 L471,225.3 M502,225.3 L505,224.6 L507.5,223.5 L509,221 L510,214 L510.6,207 L511,203.2 L511.5,208 L512,216 L512.6,224 L513.1,225.3" fill="none" stroke="#2552a8" stroke-width="2.3" stroke-linejoin="round"/>
<line x1="467.5" y1="225.3" x2="513.1" y2="225.3" stroke="#000" stroke-width="2.5"/>
<line x1="467.5" y1="225.3" x2="467.5" y2="229.3" stroke="#000" stroke-width="2.5"/>
<line x1="513.1" y1="225.3" x2="513.1" y2="229.3" stroke="#000" stroke-width="2.5"/>
<text transform="translate(470.8,237.1) scale(1,1.03)" font-size="13.8" text-anchor="middle">60</text>
<text transform="translate(511.7,237.1) scale(1,1.03)" font-size="13.8" text-anchor="middle">0</text>
<text x="12.4" y="259.6" font-size="16.7">MON***</text>
<path d="M505.3,261.9 L505.3,261.41 L505.55,261.13 L505.8,260.73 L506.05,260.16 L506.3,259.4 L506.55,258.4 L506.79,257.13 L507.04,255.59 L507.29,253.78 L507.54,251.73 L507.79,249.53 L508.04,247.27 L508.29,245.07 L508.54,243.07 L508.79,241.42 L509.04,240.23 L509.29,239.6 L509.54,239.57 L509.78,240.15 L510.03,241.28 L510.28,242.86 L510.53,244.77 L510.78,246.87 L511.03,249.02 L511.28,251.09 L511.53,253.01 L511.78,254.7 L512.03,256.13 L512.28,257.3 L512.53,258.23 L512.77,258.94 L513.02,259.47 L513.27,259.87 L513.52,260.16 L513.77,260.37 L514.02,260.54 L514.27,260.67 L514.52,260.78 L514.77,260.87 L515.02,260.95 L515.27,261.02 L515.52,261.09 L515.76,261.16 L516.01,261.22 L516.26,261.28 L516.51,261.34 L516.76,261.39 L517.01,261.45 L517.26,261.5 L517.51,261.9 L520,261.9 L520,261.9 Z" fill="#ebebeb" stroke="none"/><path d="M505.3,261.41 L505.55,261.13 L505.8,260.73 L506.05,260.16 L506.3,259.4 L506.55,258.4 L506.79,257.13 L507.04,255.59 L507.29,253.78 L507.54,251.73 L507.79,249.53 L508.04,247.27 L508.29,245.07 L508.54,243.07 L508.79,241.42 L509.04,240.23 L509.29,239.6 L509.54,239.57 L509.78,240.15 L510.03,241.28 L510.28,242.86 L510.53,244.77 L510.78,246.87 L511.03,249.02 L511.28,251.09 L511.53,253.01 L511.78,254.7 L512.03,256.13 L512.28,257.3 L512.53,258.23 L512.77,258.94 L513.02,259.47 L513.27,259.87 L513.52,260.16 L513.77,260.37 L514.02,260.54 L514.27,260.67 L514.52,260.78 L514.77,260.87 L515.02,260.95 L515.27,261.02 L515.52,261.09 L515.76,261.16 L516.01,261.22 L516.26,261.28 L516.51,261.34 L516.76,261.39 L517.01,261.45 L517.26,261.5 L517.51,261.9" fill="none" stroke="#2552a8" stroke-width="2.3" stroke-linejoin="round"/>
<line x1="508.3" y1="261.9" x2="616.0" y2="261.9" stroke="#000" stroke-width="2.5"/>
<line x1="508.3" y1="261.9" x2="508.3" y2="265.9" stroke="#000" stroke-width="2.5"/>
<line x1="562.2" y1="261.9" x2="562.2" y2="265.9" stroke="#000" stroke-width="2.5"/>
<line x1="616" y1="261.9" x2="616" y2="265.9" stroke="#000" stroke-width="2.5"/>
<text transform="translate(508.7,273.7) scale(1,1.03)" font-size="13.8" text-anchor="middle">0</text>
<text transform="translate(562.2,273.7) scale(1,1.03)" font-size="13.8" text-anchor="middle">400</text>
<text transform="translate(615.6,273.7) scale(1,1.03)" font-size="13.8" text-anchor="middle">800</text>
<text x="12.4" y="296.3" font-size="16.7">Phago***</text>
<path d="M505.6,298.6 L505.6,298.14 L505.85,297.85 L506.09,297.43 L506.34,296.82 L506.59,295.99 L506.84,294.9 L507.08,293.51 L507.33,291.83 L507.58,289.88 L507.82,287.72 L508.07,285.44 L508.32,283.17 L508.56,281.06 L508.81,279.24 L509.06,277.84 L509.31,276.95 L509.55,276.61 L509.8,276.76 L510.05,277.44 L510.29,278.65 L510.54,280.32 L510.79,282.34 L511.04,284.57 L511.28,286.86 L511.53,289.07 L511.78,291.11 L512.02,292.9 L512.27,294.4 L512.52,295.61 L512.76,296.54 L513.01,297.22 L513.26,297.71 L513.51,298.05 L513.75,298.6 L514,298.6 L514,298.6 Z" fill="#ebebeb" stroke="none"/><path d="M505.6,298.14 L505.85,297.85 L506.09,297.43 L506.34,296.82 L506.59,295.99 L506.84,294.9 L507.08,293.51 L507.33,291.83 L507.58,289.88 L507.82,287.72 L508.07,285.44 L508.32,283.17 L508.56,281.06 L508.81,279.24 L509.06,277.84 L509.31,276.95 L509.55,276.61 L509.8,276.76 L510.05,277.44 L510.29,278.65 L510.54,280.32 L510.79,282.34 L511.04,284.57 L511.28,286.86 L511.53,289.07 L511.78,291.11 L512.02,292.9 L512.27,294.4 L512.52,295.61 L512.76,296.54 L513.01,297.22 L513.26,297.71 L513.51,298.05 L513.75,298.6 L514,298.6" fill="none" stroke="#2552a8" stroke-width="2.3" stroke-linejoin="round"/>
<line x1="509.0" y1="298.6" x2="632.0" y2="298.6" stroke="#000" stroke-width="2.5"/>
<line x1="509" y1="298.6" x2="509" y2="302.6" stroke="#000" stroke-width="2.5"/>
<line x1="570.5" y1="298.6" x2="570.5" y2="302.6" stroke="#000" stroke-width="2.5"/>
<line x1="632" y1="298.6" x2="632" y2="302.6" stroke="#000" stroke-width="2.5"/>
<text transform="translate(509.5,310.4) scale(1,1.03)" font-size="13.8" text-anchor="middle">0</text>
<text transform="translate(570.6,310.4) scale(1,1.03)" font-size="13.8" text-anchor="middle">40</text>
<text transform="translate(631.8,310.4) scale(1,1.03)" font-size="13.8" text-anchor="middle">80</text>
<text x="12.4" y="333.1" font-size="16.7">LYM***</text>
<path d="M256.4,335.4 L256.4,335.4 L465.32,335.4 L465.82,334.29 L466.32,334.27 L466.82,334.26 L467.32,334.24 L467.82,334.22 L468.32,334.21 L468.82,334.19 L469.32,334.18 L469.82,334.16 L470.32,334.14 L470.82,334.13 L471.32,334.11 L471.82,334.1 L472.32,334.08 L472.82,334.07 L473.32,334.06 L473.82,334.04 L474.32,334.03 L474.82,334.01 L475.32,334 L475.82,333.99 L476.32,333.98 L476.82,333.96 L477.32,333.95 L477.82,333.94 L478.32,333.93 L478.82,333.92 L479.32,333.91 L479.82,333.9 L480.32,333.89 L480.82,333.88 L481.32,333.87 L481.82,333.87 L482.32,333.86 L482.82,333.85 L483.32,333.84 L483.82,333.84 L484.32,333.83 L484.82,333.83 L485.32,333.82 L485.81,333.82 L486.31,333.81 L486.81,333.81 L487.31,333.81 L487.81,333.8 L488.31,333.8 L488.81,333.8 L489.31,333.8 L489.81,333.8 L490.31,333.8 L490.81,333.8 L491.31,333.8 L491.81,333.8 L492.31,333.8 L492.81,333.8 L493.31,333.81 L493.81,333.81 L494.31,333.81 L494.81,333.8 L495.31,333.8 L495.81,333.8 L496.31,333.79 L496.81,333.77 L497.31,333.76 L497.81,333.73 L498.31,333.7 L498.81,333.66 L499.31,333.6 L499.81,333.54 L500.31,333.46 L500.81,333.37 L501.31,333.26 L501.81,333.14 L502.31,333.01 L502.81,332.87 L503.31,332.72 L503.81,332.57 L504.31,332.42 L504.81,332.27 L505.31,332.14 L505.81,332.02 L506.31,331.91 L506.81,331.83 L507.31,331.76 L507.81,331.68 L508.31,331.56 L508.81,331.37 L509.31,331.03 L509.81,330.46 L510.31,329.57 L510.81,328.3 L511.31,326.65 L511.81,324.66 L512.31,322.45 L512.8,320.18 L513.3,318.02 L513.8,316.12 L514.3,314.6 L514.8,313.5 L515.3,312.83 L515.8,312.52 L516.3,312.45 L516.8,312.5 L517.3,312.64 L517.8,313.01 L518.3,313.73 L518.8,314.89 L519.3,316.49 L519.8,318.5 L520.3,320.83 L520.8,323.31 L521.3,325.77 L521.8,328.04 L522.3,330 L522.8,331.57 L523.3,332.73 L523.8,333.54 L524.3,334.05 L524.8,335.4 L525.8,335.4 L525.8,335.4 Z" fill="#ebebeb" stroke="none"/><path d="M465.32,335.4 L465.82,334.29 L466.32,334.27 L466.82,334.26 L467.32,334.24 L467.82,334.22 L468.32,334.21 L468.82,334.19 L469.32,334.18 L469.82,334.16 L470.32,334.14 L470.82,334.13 L471.32,334.11 L471.82,334.1 L472.32,334.08 L472.82,334.07 L473.32,334.06 L473.82,334.04 L474.32,334.03 L474.82,334.01 L475.32,334 L475.82,333.99 L476.32,333.98 L476.82,333.96 L477.32,333.95 L477.82,333.94 L478.32,333.93 L478.82,333.92 L479.32,333.91 L479.82,333.9 L480.32,333.89 L480.82,333.88 L481.32,333.87 L481.82,333.87 L482.32,333.86 L482.82,333.85 L483.32,333.84 L483.82,333.84 L484.32,333.83 L484.82,333.83 L485.32,333.82 L485.81,333.82 L486.31,333.81 L486.81,333.81 L487.31,333.81 L487.81,333.8 L488.31,333.8 L488.81,333.8 L489.31,333.8 L489.81,333.8 L490.31,333.8 L490.81,333.8 L491.31,333.8 L491.81,333.8 L492.31,333.8 L492.81,333.8 L493.31,333.81 L493.81,333.81 L494.31,333.81 L494.81,333.8 L495.31,333.8 L495.81,333.8 L496.31,333.79 L496.81,333.77 L497.31,333.76 L497.81,333.73 L498.31,333.7 L498.81,333.66 L499.31,333.6 L499.81,333.54 L500.31,333.46 L500.81,333.37 L501.31,333.26 L501.81,333.14 L502.31,333.01 L502.81,332.87 L503.31,332.72 L503.81,332.57 L504.31,332.42 L504.81,332.27 L505.31,332.14 L505.81,332.02 L506.31,331.91 L506.81,331.83 L507.31,331.76 L507.81,331.68 L508.31,331.56 L508.81,331.37 L509.31,331.03 L509.81,330.46 L510.31,329.57 L510.81,328.3 L511.31,326.65 L511.81,324.66 L512.31,322.45 L512.8,320.18 L513.3,318.02 L513.8,316.12 L514.3,314.6 L514.8,313.5 L515.3,312.83 L515.8,312.52 L516.3,312.45 L516.8,312.5 L517.3,312.64 L517.8,313.01 L518.3,313.73 L518.8,314.89 L519.3,316.49 L519.8,318.5 L520.3,320.83 L520.8,323.31 L521.3,325.77 L521.8,328.04 L522.3,330 L522.8,331.57 L523.3,332.73 L523.8,333.54 L524.3,334.05 L524.8,335.4 L525.8,335.4" fill="none" stroke="#2552a8" stroke-width="2.3" stroke-linejoin="round"/>
<line x1="263.3" y1="335.4" x2="517.6" y2="335.4" stroke="#000" stroke-width="2.5"/>
<line x1="256.1" y1="335.4" x2="263.3" y2="335.4" stroke="#2552a8" stroke-width="2.75"/>
<line x1="517.5" y1="335.4" x2="517.5" y2="339.4" stroke="#000" stroke-width="2.5"/>
<line x1="475.15" y1="335.4" x2="475.15" y2="339.4" stroke="#000" stroke-width="2.5"/>
<line x1="432.8" y1="335.4" x2="432.8" y2="339.4" stroke="#000" stroke-width="2.5"/>
<line x1="390.45" y1="335.4" x2="390.45" y2="339.4" stroke="#000" stroke-width="2.5"/>
<line x1="348.1" y1="335.4" x2="348.1" y2="339.4" stroke="#000" stroke-width="2.5"/>
<line x1="305.75" y1="335.4" x2="305.75" y2="339.4" stroke="#000" stroke-width="2.5"/>
<line x1="263.4" y1="335.4" x2="263.4" y2="339.4" stroke="#000" stroke-width="2.5"/>
<text transform="translate(517.5,347.2) scale(1,1.03)" font-size="13.8" text-anchor="middle">0</text>
<text transform="translate(475.15,347.2) scale(1,1.03)" font-size="13.8" text-anchor="middle">200</text>
<text transform="translate(432.8,347.2) scale(1,1.03)" font-size="13.8" text-anchor="middle">400</text>
<text transform="translate(390.45,347.2) scale(1,1.03)" font-size="13.8" text-anchor="middle">600</text>
<text transform="translate(348.1,347.2) scale(1,1.03)" font-size="13.8" text-anchor="middle">800</text>
<text transform="translate(305.75,347.2) scale(1,1.03)" font-size="13.8" text-anchor="middle">1000</text>
<text transform="translate(263.4,347.2) scale(1,1.03)" font-size="13.8" text-anchor="middle">1200</text>
<text x="12.4" y="369.6" font-size="16.7">PL***</text>
<path d="M114.5,371.9 L114.5,371.9 L490,371.9 L490.5,370.78 L491,370.73 L491.5,370.68 L492,370.64 L492.5,370.59 L493,370.54 L493.5,370.49 L494,370.45 L494.5,370.4 L495,370.35 L495.5,370.31 L496,370.26 L496.5,370.22 L497,370.18 L497.5,370.14 L498,370.11 L498.5,370.07 L499,370.04 L499.5,370.02 L500,369.99 L500.5,369.97 L501,369.94 L501.5,369.92 L502,369.88 L502.5,369.83 L503,369.75 L503.5,369.66 L504,369.58 L504.5,369.47 L505,369.29 L505.5,368.99 L506,368.53 L506.5,367.89 L507,367.04 L507.5,365.98 L508,364.72 L508.5,363.29 L509,361.74 L509.5,360.12 L510,358.5 L510.5,356.93 L511,355.47 L511.5,354.16 L512,353.05 L512.5,352.15 L513,351.47 L513.5,351 L514,350.71 L514.5,350.58 L515,350.55 L515.5,350.56 L516,350.65 L516.5,350.88 L517,351.28 L517.5,351.88 L518,352.7 L518.5,353.73 L519,354.97 L519.5,356.39 L520,357.94 L520.5,359.57 L521,361.24 L521.5,362.88 L522,364.43 L522.5,365.87 L523,367.15 L523.5,368.26 L524,369.18 L524.5,369.92 L525,370.5 L525.5,371.9 L527.5,371.9 L527.5,371.9 Z" fill="#ebebeb" stroke="none"/><path d="M490,371.9 L490.5,370.78 L491,370.73 L491.5,370.68 L492,370.64 L492.5,370.59 L493,370.54 L493.5,370.49 L494,370.45 L494.5,370.4 L495,370.35 L495.5,370.31 L496,370.26 L496.5,370.22 L497,370.18 L497.5,370.14 L498,370.11 L498.5,370.07 L499,370.04 L499.5,370.02 L500,369.99 L500.5,369.97 L501,369.94 L501.5,369.92 L502,369.88 L502.5,369.83 L503,369.75 L503.5,369.66 L504,369.58 L504.5,369.47 L505,369.29 L505.5,368.99 L506,368.53 L506.5,367.89 L507,367.04 L507.5,365.98 L508,364.72 L508.5,363.29 L509,361.74 L509.5,360.12 L510,358.5 L510.5,356.93 L511,355.47 L511.5,354.16 L512,353.05 L512.5,352.15 L513,351.47 L513.5,351 L514,350.71 L514.5,350.58 L515,350.55 L515.5,350.56 L516,350.65 L516.5,350.88 L517,351.28 L517.5,351.88 L518,352.7 L518.5,353.73 L519,354.97 L519.5,356.39 L520,357.94 L520.5,359.57 L521,361.24 L521.5,362.88 L522,364.43 L522.5,365.87 L523,367.15 L523.5,368.26 L524,369.18 L524.5,369.92 L525,370.5 L525.5,371.9" fill="none" stroke="#2552a8" stroke-width="2.3" stroke-linejoin="round"/>
<line x1="114.5" y1="371.9" x2="515.8" y2="371.9" stroke="#000" stroke-width="2.5"/>
<line x1="515.7" y1="371.9" x2="515.7" y2="375.9" stroke="#000" stroke-width="2.5"/>
<line x1="484.84" y1="371.9" x2="484.84" y2="375.9" stroke="#000" stroke-width="2.5"/>
<line x1="453.98" y1="371.9" x2="453.98" y2="375.9" stroke="#000" stroke-width="2.5"/>
<line x1="423.12" y1="371.9" x2="423.12" y2="375.9" stroke="#000" stroke-width="2.5"/>
<line x1="392.26" y1="371.9" x2="392.26" y2="375.9" stroke="#000" stroke-width="2.5"/>
<line x1="361.4" y1="371.9" x2="361.4" y2="375.9" stroke="#000" stroke-width="2.5"/>
<line x1="330.54" y1="371.9" x2="330.54" y2="375.9" stroke="#000" stroke-width="2.5"/>
<line x1="299.68" y1="371.9" x2="299.68" y2="375.9" stroke="#000" stroke-width="2.5"/>
<line x1="268.82" y1="371.9" x2="268.82" y2="375.9" stroke="#000" stroke-width="2.5"/>
<line x1="237.96" y1="371.9" x2="237.96" y2="375.9" stroke="#000" stroke-width="2.5"/>
<line x1="207.1" y1="371.9" x2="207.1" y2="375.9" stroke="#000" stroke-width="2.5"/>
<line x1="176.24" y1="371.9" x2="176.24" y2="375.9" stroke="#000" stroke-width="2.5"/>
<line x1="145.38" y1="371.9" x2="145.38" y2="375.9" stroke="#000" stroke-width="2.5"/>
<line x1="114.52" y1="371.9" x2="114.52" y2="375.9" stroke="#000" stroke-width="2.5"/>
<text transform="translate(515.7,383.7) scale(1,1.03)" font-size="13.8" text-anchor="middle">0</text>
<text transform="translate(484.84,383.7) scale(1,1.03)" font-size="13.8" text-anchor="middle">5</text>
<text transform="translate(453.98,383.7) scale(1,1.03)" font-size="13.8" text-anchor="middle">10</text>
<text transform="translate(423.12,383.7) scale(1,1.03)" font-size="13.8" text-anchor="middle">15</text>
<text transform="translate(392.26,383.7) scale(1,1.03)" font-size="13.8" text-anchor="middle">20</text>
<text transform="translate(361.4,383.7) scale(1,1.03)" font-size="13.8" text-anchor="middle">25</text>
<text transform="translate(330.54,383.7) scale(1,1.03)" font-size="13.8" text-anchor="middle">30</text>
<text transform="translate(299.68,383.7) scale(1,1.03)" font-size="13.8" text-anchor="middle">35</text>
<text transform="translate(268.82,383.7) scale(1,1.03)" font-size="13.8" text-anchor="middle">40</text>
<text transform="translate(237.96,383.7) scale(1,1.03)" font-size="13.8" text-anchor="middle">45</text>
<text transform="translate(207.1,383.7) scale(1,1.03)" font-size="13.8" text-anchor="middle">50</text>
<text transform="translate(176.24,383.7) scale(1,1.03)" font-size="13.8" text-anchor="middle">55</text>
<text transform="translate(145.38,383.7) scale(1,1.03)" font-size="13.8" text-anchor="middle">60</text>
<text transform="translate(114.52,383.7) scale(1,1.03)" font-size="13.8" text-anchor="middle">65</text>
<text x="12.6" y="402.6" font-size="16.8" font-style="italic" font-weight="bold">Total points</text>
<path d="M126.3,426.9 L126.3,426.9 L517.48,426.9 L517.98,425.77 L518.48,425.71 L518.98,425.64 L519.48,425.57 L519.98,425.5 L520.48,425.43 L520.98,425.35 L521.48,425.27 L521.98,425.18 L522.48,425.1 L522.98,425.01 L523.48,424.92 L523.98,424.84 L524.48,424.75 L524.98,424.66 L525.48,424.57 L525.98,424.49 L526.48,424.41 L526.98,424.33 L527.48,424.25 L527.98,424.17 L528.48,424.1 L528.98,424.04 L529.48,423.97 L529.98,423.91 L530.48,423.84 L530.98,423.78 L531.48,423.71 L531.98,423.64 L532.48,423.55 L532.98,423.45 L533.48,423.36 L533.98,423.32 L534.48,423.3 L534.98,423.3 L535.48,423.27 L535.98,423.21 L536.48,423.07 L536.98,422.85 L537.48,422.53 L537.99,422.1 L538.49,421.55 L538.99,420.9 L539.49,420.13 L539.99,419.27 L540.49,418.33 L540.99,417.32 L541.49,416.27 L541.99,415.18 L542.49,414.08 L542.99,412.99 L543.49,411.93 L543.99,410.9 L544.49,409.93 L544.99,409.03 L545.49,408.21 L545.99,407.48 L546.49,406.85 L546.99,406.32 L547.49,405.9 L547.99,405.57 L548.49,405.33 L548.99,405.17 L549.49,405.09 L549.99,405.06 L550.49,405.07 L550.99,405.11 L551.49,405.2 L551.99,405.37 L552.49,405.63 L552.99,405.98 L553.49,406.43 L553.99,406.98 L554.49,407.63 L554.99,408.37 L555.49,409.21 L555.99,410.13 L556.49,411.11 L556.99,412.15 L557.49,413.23 L557.99,414.34 L558.49,415.46 L558.99,416.56 L559.49,417.65 L560,418.69 L560.5,419.69 L561,420.63 L561.5,421.5 L562,422.3 L562.5,423.02 L563,423.66 L563.5,424.23 L564,424.72 L564.5,425.14 L565,425.49 L565.5,425.79 L566,426.9 L571,426.9 L571,426.9 Z" fill="#ebebeb" stroke="none"/><path d="M517.48,426.9 L517.98,425.77 L518.48,425.71 L518.98,425.64 L519.48,425.57 L519.98,425.5 L520.48,425.43 L520.98,425.35 L521.48,425.27 L521.98,425.18 L522.48,425.1 L522.98,425.01 L523.48,424.92 L523.98,424.84 L524.48,424.75 L524.98,424.66 L525.48,424.57 L525.98,424.49 L526.48,424.41 L526.98,424.33 L527.48,424.25 L527.98,424.17 L528.48,424.1 L528.98,424.04 L529.48,423.97 L529.98,423.91 L530.48,423.84 L530.98,423.78 L531.48,423.71 L531.98,423.64 L532.48,423.55 L532.98,423.45 L533.48,423.36 L533.98,423.32 L534.48,423.3 L534.98,423.3 L535.48,423.27 L535.98,423.21 L536.48,423.07 L536.98,422.85 L537.48,422.53 L537.99,422.1 L538.49,421.55 L538.99,420.9 L539.49,420.13 L539.99,419.27 L540.49,418.33 L540.99,417.32 L541.49,416.27 L541.99,415.18 L542.49,414.08 L542.99,412.99 L543.49,411.93 L543.99,410.9 L544.49,409.93 L544.99,409.03 L545.49,408.21 L545.99,407.48 L546.49,406.85 L546.99,406.32 L547.49,405.9 L547.99,405.57 L548.49,405.33 L548.99,405.17 L549.49,405.09 L549.99,405.06 L550.49,405.07 L550.99,405.11 L551.49,405.2 L551.99,405.37 L552.49,405.63 L552.99,405.98 L553.49,406.43 L553.99,406.98 L554.49,407.63 L554.99,408.37 L555.49,409.21 L555.99,410.13 L556.49,411.11 L556.99,412.15 L557.49,413.23 L557.99,414.34 L558.49,415.46 L558.99,416.56 L559.49,417.65 L560,418.69 L560.5,419.69 L561,420.63 L561.5,421.5 L562,422.3 L562.5,423.02 L563,423.66 L563.5,424.23 L564,424.72 L564.5,425.14 L565,425.49 L565.5,425.79 L566,426.9" fill="none" stroke="#2552a8" stroke-width="2.3" stroke-linejoin="round"/>
<line x1="126.3" y1="426.9" x2="668.6" y2="426.9" stroke="#000" stroke-width="2.5"/>
<line x1="126.3" y1="426.9" x2="126.3" y2="430.9" stroke="#000" stroke-width="2.5"/>
<text transform="translate(126.3,439.5) scale(1,1.06)" font-size="15.4" text-anchor="middle">610</text>
<line x1="175.6" y1="426.9" x2="175.6" y2="430.9" stroke="#000" stroke-width="2.5"/>
<text transform="translate(175.6,439.5) scale(1,1.06)" font-size="15.4" text-anchor="middle">620</text>
<line x1="224.9" y1="426.9" x2="224.9" y2="430.9" stroke="#000" stroke-width="2.5"/>
<text transform="translate(224.9,439.5) scale(1,1.06)" font-size="15.4" text-anchor="middle">630</text>
<line x1="274.2" y1="426.9" x2="274.2" y2="430.9" stroke="#000" stroke-width="2.5"/>
<text transform="translate(274.2,439.5) scale(1,1.06)" font-size="15.4" text-anchor="middle">640</text>
<line x1="323.5" y1="426.9" x2="323.5" y2="430.9" stroke="#000" stroke-width="2.5"/>
<text transform="translate(323.5,439.5) scale(1,1.06)" font-size="15.4" text-anchor="middle">650</text>
<line x1="372.8" y1="426.9" x2="372.8" y2="430.9" stroke="#000" stroke-width="2.5"/>
<text transform="translate(372.8,439.5) scale(1,1.06)" font-size="15.4" text-anchor="middle">660</text>
<line x1="422.1" y1="426.9" x2="422.1" y2="430.9" stroke="#000" stroke-width="2.5"/>
<text transform="translate(422.1,439.5) scale(1,1.06)" font-size="15.4" text-anchor="middle">670</text>
<line x1="471.4" y1="426.9" x2="471.4" y2="430.9" stroke="#000" stroke-width="2.5"/>
<text transform="translate(471.4,439.5) scale(1,1.06)" font-size="15.4" text-anchor="middle">680</text>
<line x1="520.7" y1="426.9" x2="520.7" y2="430.9" stroke="#000" stroke-width="2.5"/>
<text transform="translate(520.7,439.5) scale(1,1.06)" font-size="15.4" text-anchor="middle">690</text>
<line x1="570" y1="426.9" x2="570" y2="430.9" stroke="#000" stroke-width="2.5"/>
<text transform="translate(570,439.5) scale(1,1.06)" font-size="15.4" text-anchor="middle">700</text>
<line x1="619.3" y1="426.9" x2="619.3" y2="430.9" stroke="#000" stroke-width="2.5"/>
<text transform="translate(619.3,439.5) scale(1,1.06)" font-size="15.4" text-anchor="middle">710</text>
<line x1="668.6" y1="426.9" x2="668.6" y2="430.9" stroke="#000" stroke-width="2.5"/>
<text transform="translate(668.6,439.5) scale(1,1.06)" font-size="15.4" text-anchor="middle">720</text>
<text x="458" y="465.5" font-size="15.5" font-style="italic">Pr(BTs)</text>
<line x1="533.9" y1="457.1" x2="566.8" y2="457.1" stroke="#000" stroke-width="2.5"/>
<line x1="533.9" y1="457.1" x2="533.9" y2="461.1" stroke="#000" stroke-width="2.5"/>
<line x1="566.8" y1="457.1" x2="566.8" y2="461.1" stroke="#000" stroke-width="2.5"/>
<text transform="translate(530.7,474.3) scale(1,1.06)" font-size="15" text-anchor="middle">0.002</text>
<text transform="translate(575.7,474.3) scale(1,1.06)" font-size="15" text-anchor="middle">0.998</text>
</g>
<circle cx="242.4" cy="540.5" r="2.6" fill="#e8141c"/>
<circle cx="249.6" cy="540.5" r="2.6" fill="#e8141c"/>
<circle cx="251.2" cy="540.5" r="2.6" fill="#e8141c"/>
<circle cx="252.4" cy="540.5" r="2.6" fill="#e8141c"/>
<circle cx="253.5" cy="540.5" r="2.6" fill="#e8141c"/>
<circle cx="250.5" cy="556.8" r="2.6" fill="#e8141c"/>
<circle cx="250.7" cy="575.3" r="2.6" fill="#e8141c"/>
<circle cx="250.2" cy="593.3" r="2.6" fill="#e8141c"/>
<circle cx="250.5" cy="612.0" r="2.6" fill="#e8141c"/>
<circle cx="249.6" cy="630.1" r="2.6" fill="#e8141c"/>
<circle cx="250.9" cy="648.4" r="2.6" fill="#e8141c"/>
<circle cx="250.0" cy="667.0" r="2.6" fill="#e8141c"/>
<circle cx="242.5" cy="685.3" r="2.6" fill="#e8141c"/>
<circle cx="253.4" cy="703.7" r="2.6" fill="#e8141c"/>
<path d="M255.4,731.0 L259.5,727.3 L263.6,731.0 L259.5,734.7 Z" fill="#e8141c"/>
<text transform="translate(253.4,728.1) scale(1,1.1)" font-size="7.8" font-style="italic" fill="#e8141c">692</text>
<line x1="259.5" y1="731.0" x2="259.5" y2="741" stroke="#e8141c" stroke-width="1.3"/>
<path d="M254.6,740.0 L264.6,740.0 L259.6,745.6 Z" fill="#e8141c"/>
<rect x="254.4" y="744.3" width="10.4" height="3.1" fill="#e8141c"/>
<rect x="254.4" y="742.6" width="2.3" height="6.9" fill="#e8141c"/>
<rect x="262.5" y="742.6" width="2.3" height="6.9" fill="#e8141c"/>
<text transform="translate(217.8,744.5) scale(1,1.0)" font-size="7.9" font-style="italic" fill="#e8141c">0.00027</text>
<text x="350.2" y="512" font-size="18" font-weight="bold">c</text>
<g transform="translate(343.7,517.75) scale(0.5)" class="sm">
<text transform="translate(10.8,46.7) scale(1,1.04)" font-size="15.3" font-style="italic">Points</text>
<line x1="140" y1="45.3" x2="620" y2="45.3" stroke="#000" stroke-width="2.5"/>
<line x1="140" y1="45.3" x2="140" y2="49.3" stroke="#000" stroke-width="2.5"/>
<text transform="translate(140.4,57.9) scale(1,1.06)" font-size="15.4" text-anchor="middle">0</text>
<line x1="236" y1="45.3" x2="236" y2="49.3" stroke="#000" stroke-width="2.5"/>
<text transform="translate(236.4,57.9) scale(1,1.06)" font-size="15.4" text-anchor="middle">20</text>
<line x1="332" y1="45.3" x2="332" y2="49.3" stroke="#000" stroke-width="2.5"/>
<text transform="translate(332.4,57.9) scale(1,1.06)" font-size="15.4" text-anchor="middle">40</text>
<line x1="428" y1="45.3" x2="428" y2="49.3" stroke="#000" stroke-width="2.5"/>
<text transform="translate(428.4,57.9) scale(1,1.06)" font-size="15.4" text-anchor="middle">60</text>
<line x1="524" y1="45.3" x2="524" y2="49.3" stroke="#000" stroke-width="2.5"/>
<text transform="translate(524.4,57.9) scale(1,1.06)" font-size="15.4" text-anchor="middle">80</text>
<line x1="620" y1="45.3" x2="620" y2="49.3" stroke="#000" stroke-width="2.5"/>
<text transform="translate(620.4,57.9) scale(1,1.06)" font-size="15.4" text-anchor="middle">100</text>
<text x="10.6" y="76.1" font-size="16.7">Cl*</text>
<path d="M507.3,78.4 L507.3,78.4 L508.2,77.6 L508.8,72 L509.3,62 L509.8,55.8 L510.2,64 L510.6,70 L511.2,73.5 L511.8,76.5 L512.5,78 L513.4,78.4 L513.4,78.4 Z" fill="#ebebeb" stroke="none"/><path d="M507.3,78.4 L508.2,77.6 L508.8,72 L509.3,62 L509.8,55.8 L510.2,64 L510.6,70 L511.2,73.5 L511.8,76.5 L512.5,78 L513.4,78.4" fill="none" stroke="#2552a8" stroke-width="2.3" stroke-linejoin="round"/>
<line x1="507.3" y1="78.4" x2="513.5" y2="78.4" stroke="#000" stroke-width="2.5"/>
<line x1="507.3" y1="78.4" x2="507.3" y2="82.4" stroke="#000" stroke-width="2.5"/>
<line x1="513.5" y1="78.4" x2="513.5" y2="82.4" stroke="#000" stroke-width="2.5"/>
<text transform="translate(505.3,90.2) scale(1,1.03)" font-size="13.8" text-anchor="middle">0</text>
<text transform="translate(520.3,90.2) scale(1,1.03)" font-size="13.8" text-anchor="middle">95</text>
<text x="10.6" y="112.8" font-size="16.7">Glu***</text>
<path d="M502,115.1 L502,115.1 L505.5,114.8 L507.8,114.2 L508.6,111 L509.2,101 L509.9,93 L510.5,101 L511.1,106 L511.6,107.5 L512.3,110.5 L512.8,115.1 L512.8,115.1 Z" fill="#ebebeb" stroke="none"/><path d="M502,115.1 L505.5,114.8 L507.8,114.2 L508.6,111 L509.2,101 L509.9,93 L510.5,101 L511.1,106 L511.6,107.5 L512.3,110.5 L512.8,115.1" fill="none" stroke="#2552a8" stroke-width="2.3" stroke-linejoin="round"/>
<line x1="502.0" y1="115.1" x2="512.6" y2="115.1" stroke="#000" stroke-width="2.5"/>
<line x1="502" y1="115.1" x2="502" y2="119.1" stroke="#000" stroke-width="2.5"/>
<line x1="512.6" y1="115.1" x2="512.6" y2="119.1" stroke="#000" stroke-width="2.5"/>
<text transform="translate(499.4,126.9) scale(1,1.03)" font-size="13.8" text-anchor="middle">12</text>
<text transform="translate(512.8,126.9) scale(1,1.03)" font-size="13.8" text-anchor="middle">0</text>
<text x="10.6" y="149.4" font-size="16.7">Pressure***</text>
<path d="M506.8,151.7 L506.8,151.7 L507.6,149.5 L508.5,141 L509.4,129.4 L510,141.5 L510.6,143 L511.6,149.3 L514.2,149.2 L514.7,145.5 L515,151.7 L515,151.7 Z" fill="#ebebeb" stroke="none"/><path d="M506.8,151.7 L507.6,149.5 L508.5,141 L509.4,129.4 L510,141.5 L510.6,143 L511.6,149.3 L514.2,149.2 L514.7,145.5 L515,151.7" fill="none" stroke="#2552a8" stroke-width="2.3" stroke-linejoin="round"/>
<line x1="506.8" y1="151.7" x2="515.0" y2="151.7" stroke="#000" stroke-width="2.5"/>
<line x1="506.8" y1="151.7" x2="506.8" y2="155.7" stroke="#000" stroke-width="2.5"/>
<line x1="515" y1="151.7" x2="515" y2="155.7" stroke="#000" stroke-width="2.5"/>
<text transform="translate(507.2,163.5) scale(1,1.03)" font-size="13.8" text-anchor="middle">0</text>
<text transform="translate(524.5,163.5) scale(1,1.03)" font-size="13.8" text-anchor="middle">500</text>
<text x="10.6" y="186.2" font-size="16.7">Protein**</text>
<path d="M507.6,188.5 L507.6,188.5 L508.3,180 L509,166.2 L509.8,175 L510.5,182.5 L511.6,185.8 L512.8,187.6 L514,188 L516.5,188.3 L516.5,188.5 Z" fill="#ebebeb" stroke="none"/><path d="M507.6,188.5 L508.3,180 L509,166.2 L509.8,175 L510.5,182.5 L511.6,185.8 L512.8,187.6 L514,188 L516.5,188.3" fill="none" stroke="#2552a8" stroke-width="2.3" stroke-linejoin="round"/>
<line x1="507.6" y1="188.5" x2="535.3" y2="188.5" stroke="#000" stroke-width="2.5"/>
<line x1="507.6" y1="188.5" x2="507.6" y2="192.5" stroke="#000" stroke-width="2.5"/>
<line x1="535.3" y1="188.5" x2="535.3" y2="192.5" stroke="#000" stroke-width="2.5"/>
<text transform="translate(508.5,200.3) scale(1,1.03)" font-size="13.8" text-anchor="middle">0</text>
<text transform="translate(535,200.3) scale(1,1.03)" font-size="13.8" text-anchor="middle">14</text>
<text x="10.6" y="223" font-size="16.7">ADA**</text>
<path d="M467.5,225.3 L467.5,224.9 L469.5,225 L471,225.3 L502,225.3 L505,224.6 L507.5,223.5 L509,221 L510,214 L510.6,207 L511,203.2 L511.5,208 L512,216 L512.6,224 L513.1,225.3 L513.1,225.3 Z" fill="#ebebeb" stroke="none"/><path d="M467.5,224.9 L469.5,225 L471,225.3 M502,225.3 L505,224.6 L507.5,223.5 L509,221 L510,214 L510.6,207 L511,203.2 L511.5,208 L512,216 L512.6,224 L513.1,225.3" fill="none" stroke="#2552a8" stroke-width="2.3" stroke-linejoin="round"/>
<line x1="467.5" y1="225.3" x2="513.1" y2="225.3" stroke="#000" stroke-width="2.5"/>
<line x1="467.5" y1="225.3" x2="467.5" y2="229.3" stroke="#000" stroke-width="2.5"/>
<line x1="513.1" y1="225.3" x2="513.1" y2="229.3" stroke="#000" stroke-width="2.5"/>
<text transform="translate(470.8,237.1) scale(1,1.03)" font-size="13.8" text-anchor="middle">60</text>
<text transform="translate(511.7,237.1) scale(1,1.03)" font-size="13.8" text-anchor="middle">0</text>
<text x="10.6" y="259.6" font-size="16.7">MON***</text>
<path d="M505.3,261.9 L505.3,261.41 L505.55,261.13 L505.8,260.73 L506.05,260.16 L506.3,259.4 L506.55,258.4 L506.79,257.13 L507.04,255.59 L507.29,253.78 L507.54,251.73 L507.79,249.53 L508.04,247.27 L508.29,245.07 L508.54,243.07 L508.79,241.42 L509.04,240.23 L509.29,239.6 L509.54,239.57 L509.78,240.15 L510.03,241.28 L510.28,242.86 L510.53,244.77 L510.78,246.87 L511.03,249.02 L511.28,251.09 L511.53,253.01 L511.78,254.7 L512.03,256.13 L512.28,257.3 L512.53,258.23 L512.77,258.94 L513.02,259.47 L513.27,259.87 L513.52,260.16 L513.77,260.37 L514.02,260.54 L514.27,260.67 L514.52,260.78 L514.77,260.87 L515.02,260.95 L515.27,261.02 L515.52,261.09 L515.76,261.16 L516.01,261.22 L516.26,261.28 L516.51,261.34 L516.76,261.39 L517.01,261.45 L517.26,261.5 L517.51,261.9 L520,261.9 L520,261.9 Z" fill="#ebebeb" stroke="none"/><path d="M505.3,261.41 L505.55,261.13 L505.8,260.73 L506.05,260.16 L506.3,259.4 L506.55,258.4 L506.79,257.13 L507.04,255.59 L507.29,253.78 L507.54,251.73 L507.79,249.53 L508.04,247.27 L508.29,245.07 L508.54,243.07 L508.79,241.42 L509.04,240.23 L509.29,239.6 L509.54,239.57 L509.78,240.15 L510.03,241.28 L510.28,242.86 L510.53,244.77 L510.78,246.87 L511.03,249.02 L511.28,251.09 L511.53,253.01 L511.78,254.7 L512.03,256.13 L512.28,257.3 L512.53,258.23 L512.77,258.94 L513.02,259.47 L513.27,259.87 L513.52,260.16 L513.77,260.37 L514.02,260.54 L514.27,260.67 L514.52,260.78 L514.77,260.87 L515.02,260.95 L515.27,261.02 L515.52,261.09 L515.76,261.16 L516.01,261.22 L516.26,261.28 L516.51,261.34 L516.76,261.39 L517.01,261.45 L517.26,261.5 L517.51,261.9" fill="none" stroke="#2552a8" stroke-width="2.3" stroke-linejoin="round"/>
<line x1="508.3" y1="261.9" x2="616.0" y2="261.9" stroke="#000" stroke-width="2.5"/>
<line x1="508.3" y1="261.9" x2="508.3" y2="265.9" stroke="#000" stroke-width="2.5"/>
<line x1="562.2" y1="261.9" x2="562.2" y2="265.9" stroke="#000" stroke-width="2.5"/>
<line x1="616" y1="261.9" x2="616" y2="265.9" stroke="#000" stroke-width="2.5"/>
<text transform="translate(508.7,273.7) scale(1,1.03)" font-size="13.8" text-anchor="middle">0</text>
<text transform="translate(562.2,273.7) scale(1,1.03)" font-size="13.8" text-anchor="middle">400</text>
<text transform="translate(615.6,273.7) scale(1,1.03)" font-size="13.8" text-anchor="middle">800</text>
<text x="10.6" y="296.3" font-size="16.7">Phago***</text>
<path d="M505.6,298.6 L505.6,298.14 L505.85,297.85 L506.09,297.43 L506.34,296.82 L506.59,295.99 L506.84,294.9 L507.08,293.51 L507.33,291.83 L507.58,289.88 L507.82,287.72 L508.07,285.44 L508.32,283.17 L508.56,281.06 L508.81,279.24 L509.06,277.84 L509.31,276.95 L509.55,276.61 L509.8,276.76 L510.05,277.44 L510.29,278.65 L510.54,280.32 L510.79,282.34 L511.04,284.57 L511.28,286.86 L511.53,289.07 L511.78,291.11 L512.02,292.9 L512.27,294.4 L512.52,295.61 L512.76,296.54 L513.01,297.22 L513.26,297.71 L513.51,298.05 L513.75,298.6 L514,298.6 L514,298.6 Z" fill="#ebebeb" stroke="none"/><path d="M505.6,298.14 L505.85,297.85 L506.09,297.43 L506.34,296.82 L506.59,295.99 L506.84,294.9 L507.08,293.51 L507.33,291.83 L507.58,289.88 L507.82,287.72 L508.07,285.44 L508.32,283.17 L508.56,281.06 L508.81,279.24 L509.06,277.84 L509.31,276.95 L509.55,276.61 L509.8,276.76 L510.05,277.44 L510.29,278.65 L510.54,280.32 L510.79,282.34 L511.04,284.57 L511.28,286.86 L511.53,289.07 L511.78,291.11 L512.02,292.9 L512.27,294.4 L512.52,295.61 L512.76,296.54 L513.01,297.22 L513.26,297.71 L513.51,298.05 L513.75,298.6 L514,298.6" fill="none" stroke="#2552a8" stroke-width="2.3" stroke-linejoin="round"/>
<line x1="509.0" y1="298.6" x2="632.0" y2="298.6" stroke="#000" stroke-width="2.5"/>
<line x1="509" y1="298.6" x2="509" y2="302.6" stroke="#000" stroke-width="2.5"/>
<line x1="570.5" y1="298.6" x2="570.5" y2="302.6" stroke="#000" stroke-width="2.5"/>
<line x1="632" y1="298.6" x2="632" y2="302.6" stroke="#000" stroke-width="2.5"/>
<text transform="translate(509.5,310.4) scale(1,1.03)" font-size="13.8" text-anchor="middle">0</text>
<text transform="translate(570.6,310.4) scale(1,1.03)" font-size="13.8" text-anchor="middle">40</text>
<text transform="translate(631.8,310.4) scale(1,1.03)" font-size="13.8" text-anchor="middle">80</text>
<text x="10.6" y="333.1" font-size="16.7">LYM***</text>
<path d="M256.4,335.4 L256.4,335.4 L465.32,335.4 L465.82,334.29 L466.32,334.27 L466.82,334.26 L467.32,334.24 L467.82,334.22 L468.32,334.21 L468.82,334.19 L469.32,334.18 L469.82,334.16 L470.32,334.14 L470.82,334.13 L471.32,334.11 L471.82,334.1 L472.32,334.08 L472.82,334.07 L473.32,334.06 L473.82,334.04 L474.32,334.03 L474.82,334.01 L475.32,334 L475.82,333.99 L476.32,333.98 L476.82,333.96 L477.32,333.95 L477.82,333.94 L478.32,333.93 L478.82,333.92 L479.32,333.91 L479.82,333.9 L480.32,333.89 L480.82,333.88 L481.32,333.87 L481.82,333.87 L482.32,333.86 L482.82,333.85 L483.32,333.84 L483.82,333.84 L484.32,333.83 L484.82,333.83 L485.32,333.82 L485.81,333.82 L486.31,333.81 L486.81,333.81 L487.31,333.81 L487.81,333.8 L488.31,333.8 L488.81,333.8 L489.31,333.8 L489.81,333.8 L490.31,333.8 L490.81,333.8 L491.31,333.8 L491.81,333.8 L492.31,333.8 L492.81,333.8 L493.31,333.81 L493.81,333.81 L494.31,333.81 L494.81,333.8 L495.31,333.8 L495.81,333.8 L496.31,333.79 L496.81,333.77 L497.31,333.76 L497.81,333.73 L498.31,333.7 L498.81,333.66 L499.31,333.6 L499.81,333.54 L500.31,333.46 L500.81,333.37 L501.31,333.26 L501.81,333.14 L502.31,333.01 L502.81,332.87 L503.31,332.72 L503.81,332.57 L504.31,332.42 L504.81,332.27 L505.31,332.14 L505.81,332.02 L506.31,331.91 L506.81,331.83 L507.31,331.76 L507.81,331.68 L508.31,331.56 L508.81,331.37 L509.31,331.03 L509.81,330.46 L510.31,329.57 L510.81,328.3 L511.31,326.65 L511.81,324.66 L512.31,322.45 L512.8,320.18 L513.3,318.02 L513.8,316.12 L514.3,314.6 L514.8,313.5 L515.3,312.83 L515.8,312.52 L516.3,312.45 L516.8,312.5 L517.3,312.64 L517.8,313.01 L518.3,313.73 L518.8,314.89 L519.3,316.49 L519.8,318.5 L520.3,320.83 L520.8,323.31 L521.3,325.77 L521.8,328.04 L522.3,330 L522.8,331.57 L523.3,332.73 L523.8,333.54 L524.3,334.05 L524.8,335.4 L525.8,335.4 L525.8,335.4 Z" fill="#ebebeb" stroke="none"/><path d="M465.32,335.4 L465.82,334.29 L466.32,334.27 L466.82,334.26 L467.32,334.24 L467.82,334.22 L468.32,334.21 L468.82,334.19 L469.32,334.18 L469.82,334.16 L470.32,334.14 L470.82,334.13 L471.32,334.11 L471.82,334.1 L472.32,334.08 L472.82,334.07 L473.32,334.06 L473.82,334.04 L474.32,334.03 L474.82,334.01 L475.32,334 L475.82,333.99 L476.32,333.98 L476.82,333.96 L477.32,333.95 L477.82,333.94 L478.32,333.93 L478.82,333.92 L479.32,333.91 L479.82,333.9 L480.32,333.89 L480.82,333.88 L481.32,333.87 L481.82,333.87 L482.32,333.86 L482.82,333.85 L483.32,333.84 L483.82,333.84 L484.32,333.83 L484.82,333.83 L485.32,333.82 L485.81,333.82 L486.31,333.81 L486.81,333.81 L487.31,333.81 L487.81,333.8 L488.31,333.8 L488.81,333.8 L489.31,333.8 L489.81,333.8 L490.31,333.8 L490.81,333.8 L491.31,333.8 L491.81,333.8 L492.31,333.8 L492.81,333.8 L493.31,333.81 L493.81,333.81 L494.31,333.81 L494.81,333.8 L495.31,333.8 L495.81,333.8 L496.31,333.79 L496.81,333.77 L497.31,333.76 L497.81,333.73 L498.31,333.7 L498.81,333.66 L499.31,333.6 L499.81,333.54 L500.31,333.46 L500.81,333.37 L501.31,333.26 L501.81,333.14 L502.31,333.01 L502.81,332.87 L503.31,332.72 L503.81,332.57 L504.31,332.42 L504.81,332.27 L505.31,332.14 L505.81,332.02 L506.31,331.91 L506.81,331.83 L507.31,331.76 L507.81,331.68 L508.31,331.56 L508.81,331.37 L509.31,331.03 L509.81,330.46 L510.31,329.57 L510.81,328.3 L511.31,326.65 L511.81,324.66 L512.31,322.45 L512.8,320.18 L513.3,318.02 L513.8,316.12 L514.3,314.6 L514.8,313.5 L515.3,312.83 L515.8,312.52 L516.3,312.45 L516.8,312.5 L517.3,312.64 L517.8,313.01 L518.3,313.73 L518.8,314.89 L519.3,316.49 L519.8,318.5 L520.3,320.83 L520.8,323.31 L521.3,325.77 L521.8,328.04 L522.3,330 L522.8,331.57 L523.3,332.73 L523.8,333.54 L524.3,334.05 L524.8,335.4 L525.8,335.4" fill="none" stroke="#2552a8" stroke-width="2.3" stroke-linejoin="round"/>
<line x1="263.3" y1="335.4" x2="517.6" y2="335.4" stroke="#000" stroke-width="2.5"/>
<line x1="256.1" y1="335.4" x2="263.3" y2="335.4" stroke="#2552a8" stroke-width="2.75"/>
<line x1="517.5" y1="335.4" x2="517.5" y2="339.4" stroke="#000" stroke-width="2.5"/>
<line x1="475.15" y1="335.4" x2="475.15" y2="339.4" stroke="#000" stroke-width="2.5"/>
<line x1="432.8" y1="335.4" x2="432.8" y2="339.4" stroke="#000" stroke-width="2.5"/>
<line x1="390.45" y1="335.4" x2="390.45" y2="339.4" stroke="#000" stroke-width="2.5"/>
<line x1="348.1" y1="335.4" x2="348.1" y2="339.4" stroke="#000" stroke-width="2.5"/>
<line x1="305.75" y1="335.4" x2="305.75" y2="339.4" stroke="#000" stroke-width="2.5"/>
<line x1="263.4" y1="335.4" x2="263.4" y2="339.4" stroke="#000" stroke-width="2.5"/>
<text transform="translate(517.5,347.2) scale(1,1.03)" font-size="13.8" text-anchor="middle">0</text>
<text transform="translate(475.15,347.2) scale(1,1.03)" font-size="13.8" text-anchor="middle">200</text>
<text transform="translate(432.8,347.2) scale(1,1.03)" font-size="13.8" text-anchor="middle">400</text>
<text transform="translate(390.45,347.2) scale(1,1.03)" font-size="13.8" text-anchor="middle">600</text>
<text transform="translate(348.1,347.2) scale(1,1.03)" font-size="13.8" text-anchor="middle">800</text>
<text transform="translate(305.75,347.2) scale(1,1.03)" font-size="13.8" text-anchor="middle">1000</text>
<text transform="translate(263.4,347.2) scale(1,1.03)" font-size="13.8" text-anchor="middle">1200</text>
<text x="10.6" y="369.6" font-size="16.7">PL***</text>
<path d="M114.5,371.9 L114.5,371.9 L490,371.9 L490.5,370.78 L491,370.73 L491.5,370.68 L492,370.64 L492.5,370.59 L493,370.54 L493.5,370.49 L494,370.45 L494.5,370.4 L495,370.35 L495.5,370.31 L496,370.26 L496.5,370.22 L497,370.18 L497.5,370.14 L498,370.11 L498.5,370.07 L499,370.04 L499.5,370.02 L500,369.99 L500.5,369.97 L501,369.94 L501.5,369.92 L502,369.88 L502.5,369.83 L503,369.75 L503.5,369.66 L504,369.58 L504.5,369.47 L505,369.29 L505.5,368.99 L506,368.53 L506.5,367.89 L507,367.04 L507.5,365.98 L508,364.72 L508.5,363.29 L509,361.74 L509.5,360.12 L510,358.5 L510.5,356.93 L511,355.47 L511.5,354.16 L512,353.05 L512.5,352.15 L513,351.47 L513.5,351 L514,350.71 L514.5,350.58 L515,350.55 L515.5,350.56 L516,350.65 L516.5,350.88 L517,351.28 L517.5,351.88 L518,352.7 L518.5,353.73 L519,354.97 L519.5,356.39 L520,357.94 L520.5,359.57 L521,361.24 L521.5,362.88 L522,364.43 L522.5,365.87 L523,367.15 L523.5,368.26 L524,369.18 L524.5,369.92 L525,370.5 L525.5,371.9 L527.5,371.9 L527.5,371.9 Z" fill="#ebebeb" stroke="none"/><path d="M490,371.9 L490.5,370.78 L491,370.73 L491.5,370.68 L492,370.64 L492.5,370.59 L493,370.54 L493.5,370.49 L494,370.45 L494.5,370.4 L495,370.35 L495.5,370.31 L496,370.26 L496.5,370.22 L497,370.18 L497.5,370.14 L498,370.11 L498.5,370.07 L499,370.04 L499.5,370.02 L500,369.99 L500.5,369.97 L501,369.94 L501.5,369.92 L502,369.88 L502.5,369.83 L503,369.75 L503.5,369.66 L504,369.58 L504.5,369.47 L505,369.29 L505.5,368.99 L506,368.53 L506.5,367.89 L507,367.04 L507.5,365.98 L508,364.72 L508.5,363.29 L509,361.74 L509.5,360.12 L510,358.5 L510.5,356.93 L511,355.47 L511.5,354.16 L512,353.05 L512.5,352.15 L513,351.47 L513.5,351 L514,350.71 L514.5,350.58 L515,350.55 L515.5,350.56 L516,350.65 L516.5,350.88 L517,351.28 L517.5,351.88 L518,352.7 L518.5,353.73 L519,354.97 L519.5,356.39 L520,357.94 L520.5,359.57 L521,361.24 L521.5,362.88 L522,364.43 L522.5,365.87 L523,367.15 L523.5,368.26 L524,369.18 L524.5,369.92 L525,370.5 L525.5,371.9" fill="none" stroke="#2552a8" stroke-width="2.3" stroke-linejoin="round"/>
<line x1="114.5" y1="371.9" x2="515.8" y2="371.9" stroke="#000" stroke-width="2.5"/>
<line x1="515.7" y1="371.9" x2="515.7" y2="375.9" stroke="#000" stroke-width="2.5"/>
<line x1="484.84" y1="371.9" x2="484.84" y2="375.9" stroke="#000" stroke-width="2.5"/>
<line x1="453.98" y1="371.9" x2="453.98" y2="375.9" stroke="#000" stroke-width="2.5"/>
<line x1="423.12" y1="371.9" x2="423.12" y2="375.9" stroke="#000" stroke-width="2.5"/>
<line x1="392.26" y1="371.9" x2="392.26" y2="375.9" stroke="#000" stroke-width="2.5"/>
<line x1="361.4" y1="371.9" x2="361.4" y2="375.9" stroke="#000" stroke-width="2.5"/>
<line x1="330.54" y1="371.9" x2="330.54" y2="375.9" stroke="#000" stroke-width="2.5"/>
<line x1="299.68" y1="371.9" x2="299.68" y2="375.9" stroke="#000" stroke-width="2.5"/>
<line x1="268.82" y1="371.9" x2="268.82" y2="375.9" stroke="#000" stroke-width="2.5"/>
<line x1="237.96" y1="371.9" x2="237.96" y2="375.9" stroke="#000" stroke-width="2.5"/>
<line x1="207.1" y1="371.9" x2="207.1" y2="375.9" stroke="#000" stroke-width="2.5"/>
<line x1="176.24" y1="371.9" x2="176.24" y2="375.9" stroke="#000" stroke-width="2.5"/>
<line x1="145.38" y1="371.9" x2="145.38" y2="375.9" stroke="#000" stroke-width="2.5"/>
<line x1="114.52" y1="371.9" x2="114.52" y2="375.9" stroke="#000" stroke-width="2.5"/>
<text transform="translate(515.7,383.7) scale(1,1.03)" font-size="13.8" text-anchor="middle">0</text>
<text transform="translate(484.84,383.7) scale(1,1.03)" font-size="13.8" text-anchor="middle">5</text>
<text transform="translate(453.98,383.7) scale(1,1.03)" font-size="13.8" text-anchor="middle">10</text>
<text transform="translate(423.12,383.7) scale(1,1.03)" font-size="13.8" text-anchor="middle">15</text>
<text transform="translate(392.26,383.7) scale(1,1.03)" font-size="13.8" text-anchor="middle">20</text>
<text transform="translate(361.4,383.7) scale(1,1.03)" font-size="13.8" text-anchor="middle">25</text>
<text transform="translate(330.54,383.7) scale(1,1.03)" font-size="13.8" text-anchor="middle">30</text>
<text transform="translate(299.68,383.7) scale(1,1.03)" font-size="13.8" text-anchor="middle">35</text>
<text transform="translate(268.82,383.7) scale(1,1.03)" font-size="13.8" text-anchor="middle">40</text>
<text transform="translate(237.96,383.7) scale(1,1.03)" font-size="13.8" text-anchor="middle">45</text>
<text transform="translate(207.1,383.7) scale(1,1.03)" font-size="13.8" text-anchor="middle">50</text>
<text transform="translate(176.24,383.7) scale(1,1.03)" font-size="13.8" text-anchor="middle">55</text>
<text transform="translate(145.38,383.7) scale(1,1.03)" font-size="13.8" text-anchor="middle">60</text>
<text transform="translate(114.52,383.7) scale(1,1.03)" font-size="13.8" text-anchor="middle">65</text>
<text x="10.8" y="402.6" font-size="16.8" font-style="italic" font-weight="bold">Total points</text>
<path d="M126.3,426.9 L126.3,426.9 L517.48,426.9 L517.98,425.77 L518.48,425.71 L518.98,425.64 L519.48,425.57 L519.98,425.5 L520.48,425.43 L520.98,425.35 L521.48,425.27 L521.98,425.18 L522.48,425.1 L522.98,425.01 L523.48,424.92 L523.98,424.84 L524.48,424.75 L524.98,424.66 L525.48,424.57 L525.98,424.49 L526.48,424.41 L526.98,424.33 L527.48,424.25 L527.98,424.17 L528.48,424.1 L528.98,424.04 L529.48,423.97 L529.98,423.91 L530.48,423.84 L530.98,423.78 L531.48,423.71 L531.98,423.64 L532.48,423.55 L532.98,423.45 L533.48,423.36 L533.98,423.32 L534.48,423.3 L534.98,423.3 L535.48,423.27 L535.98,423.21 L536.48,423.07 L536.98,422.85 L537.48,422.53 L537.99,422.1 L538.49,421.55 L538.99,420.9 L539.49,420.13 L539.99,419.27 L540.49,418.33 L540.99,417.32 L541.49,416.27 L541.99,415.18 L542.49,414.08 L542.99,412.99 L543.49,411.93 L543.99,410.9 L544.49,409.93 L544.99,409.03 L545.49,408.21 L545.99,407.48 L546.49,406.85 L546.99,406.32 L547.49,405.9 L547.99,405.57 L548.49,405.33 L548.99,405.17 L549.49,405.09 L549.99,405.06 L550.49,405.07 L550.99,405.11 L551.49,405.2 L551.99,405.37 L552.49,405.63 L552.99,405.98 L553.49,406.43 L553.99,406.98 L554.49,407.63 L554.99,408.37 L555.49,409.21 L555.99,410.13 L556.49,411.11 L556.99,412.15 L557.49,413.23 L557.99,414.34 L558.49,415.46 L558.99,416.56 L559.49,417.65 L560,418.69 L560.5,419.69 L561,420.63 L561.5,421.5 L562,422.3 L562.5,423.02 L563,423.66 L563.5,424.23 L564,424.72 L564.5,425.14 L565,425.49 L565.5,425.79 L566,426.9 L571,426.9 L571,426.9 Z" fill="#ebebeb" stroke="none"/><path d="M517.48,426.9 L517.98,425.77 L518.48,425.71 L518.98,425.64 L519.48,425.57 L519.98,425.5 L520.48,425.43 L520.98,425.35 L521.48,425.27 L521.98,425.18 L522.48,425.1 L522.98,425.01 L523.48,424.92 L523.98,424.84 L524.48,424.75 L524.98,424.66 L525.48,424.57 L525.98,424.49 L526.48,424.41 L526.98,424.33 L527.48,424.25 L527.98,424.17 L528.48,424.1 L528.98,424.04 L529.48,423.97 L529.98,423.91 L530.48,423.84 L530.98,423.78 L531.48,423.71 L531.98,423.64 L532.48,423.55 L532.98,423.45 L533.48,423.36 L533.98,423.32 L534.48,423.3 L534.98,423.3 L535.48,423.27 L535.98,423.21 L536.48,423.07 L536.98,422.85 L537.48,422.53 L537.99,422.1 L538.49,421.55 L538.99,420.9 L539.49,420.13 L539.99,419.27 L540.49,418.33 L540.99,417.32 L541.49,416.27 L541.99,415.18 L542.49,414.08 L542.99,412.99 L543.49,411.93 L543.99,410.9 L544.49,409.93 L544.99,409.03 L545.49,408.21 L545.99,407.48 L546.49,406.85 L546.99,406.32 L547.49,405.9 L547.99,405.57 L548.49,405.33 L548.99,405.17 L549.49,405.09 L549.99,405.06 L550.49,405.07 L550.99,405.11 L551.49,405.2 L551.99,405.37 L552.49,405.63 L552.99,405.98 L553.49,406.43 L553.99,406.98 L554.49,407.63 L554.99,408.37 L555.49,409.21 L555.99,410.13 L556.49,411.11 L556.99,412.15 L557.49,413.23 L557.99,414.34 L558.49,415.46 L558.99,416.56 L559.49,417.65 L560,418.69 L560.5,419.69 L561,420.63 L561.5,421.5 L562,422.3 L562.5,423.02 L563,423.66 L563.5,424.23 L564,424.72 L564.5,425.14 L565,425.49 L565.5,425.79 L566,426.9" fill="none" stroke="#2552a8" stroke-width="2.3" stroke-linejoin="round"/>
<line x1="126.3" y1="426.9" x2="668.6" y2="426.9" stroke="#000" stroke-width="2.5"/>
<line x1="126.3" y1="426.9" x2="126.3" y2="430.9" stroke="#000" stroke-width="2.5"/>
<text transform="translate(126.3,439.5) scale(1,1.06)" font-size="15.4" text-anchor="middle">610</text>
<line x1="175.6" y1="426.9" x2="175.6" y2="430.9" stroke="#000" stroke-width="2.5"/>
<text transform="translate(175.6,439.5) scale(1,1.06)" font-size="15.4" text-anchor="middle">620</text>
<line x1="224.9" y1="426.9" x2="224.9" y2="430.9" stroke="#000" stroke-width="2.5"/>
<text transform="translate(224.9,439.5) scale(1,1.06)" font-size="15.4" text-anchor="middle">630</text>
<line x1="274.2" y1="426.9" x2="274.2" y2="430.9" stroke="#000" stroke-width="2.5"/>
<text transform="translate(274.2,439.5) scale(1,1.06)" font-size="15.4" text-anchor="middle">640</text>
<line x1="323.5" y1="426.9" x2="323.5" y2="430.9" stroke="#000" stroke-width="2.5"/>
<text transform="translate(323.5,439.5) scale(1,1.06)" font-size="15.4" text-anchor="middle">650</text>
<line x1="372.8" y1="426.9" x2="372.8" y2="430.9" stroke="#000" stroke-width="2.5"/>
<text transform="translate(372.8,439.5) scale(1,1.06)" font-size="15.4" text-anchor="middle">660</text>
<line x1="422.1" y1="426.9" x2="422.1" y2="430.9" stroke="#000" stroke-width="2.5"/>
<text transform="translate(422.1,439.5) scale(1,1.06)" font-size="15.4" text-anchor="middle">670</text>
<line x1="471.4" y1="426.9" x2="471.4" y2="430.9" stroke="#000" stroke-width="2.5"/>
<text transform="translate(471.4,439.5) scale(1,1.06)" font-size="15.4" text-anchor="middle">680</text>
<line x1="520.7" y1="426.9" x2="520.7" y2="430.9" stroke="#000" stroke-width="2.5"/>
<text transform="translate(520.7,439.5) scale(1,1.06)" font-size="15.4" text-anchor="middle">690</text>
<line x1="570" y1="426.9" x2="570" y2="430.9" stroke="#000" stroke-width="2.5"/>
<text transform="translate(570,439.5) scale(1,1.06)" font-size="15.4" text-anchor="middle">700</text>
<line x1="619.3" y1="426.9" x2="619.3" y2="430.9" stroke="#000" stroke-width="2.5"/>
<text transform="translate(619.3,439.5) scale(1,1.06)" font-size="15.4" text-anchor="middle">710</text>
<line x1="668.6" y1="426.9" x2="668.6" y2="430.9" stroke="#000" stroke-width="2.5"/>
<text transform="translate(668.6,439.5) scale(1,1.06)" font-size="15.4" text-anchor="middle">720</text>
<text x="474.2" y="463.7" font-size="15.5" font-style="italic">Pr(BTs)</text>
<line x1="533.9" y1="457.1" x2="566.8" y2="457.1" stroke="#000" stroke-width="2.5"/>
<line x1="533.9" y1="457.1" x2="533.9" y2="461.1" stroke="#000" stroke-width="2.5"/>
<line x1="566.8" y1="457.1" x2="566.8" y2="461.1" stroke="#000" stroke-width="2.5"/>
<text transform="translate(529.8,477.1) scale(1,1.06)" font-size="15" text-anchor="middle">0.002</text>
<text transform="translate(571.6,477.1) scale(1,1.06)" font-size="15" text-anchor="middle">0.998</text>
</g>
<circle cx="598.0" cy="540.5" r="2.6" fill="#e8141c"/>
<circle cx="599.5" cy="540.5" r="2.6" fill="#e8141c"/>
<circle cx="601.0" cy="540.5" r="2.6" fill="#e8141c"/>
<circle cx="602.2" cy="540.5" r="2.6" fill="#e8141c"/>
<circle cx="598.6" cy="556.8" r="2.6" fill="#e8141c"/>
<circle cx="599.1" cy="575.3" r="2.6" fill="#e8141c"/>
<circle cx="600.4" cy="593.2" r="2.6" fill="#e8141c"/>
<circle cx="598.4" cy="612.1" r="2.6" fill="#e8141c"/>
<circle cx="598.4" cy="630.3" r="2.6" fill="#e8141c"/>
<circle cx="598.4" cy="648.4" r="2.6" fill="#e8141c"/>
<circle cx="602.1" cy="667.0" r="2.6" fill="#e8141c"/>
<circle cx="600.4" cy="685.3" r="2.6" fill="#e8141c"/>
<circle cx="601.2" cy="703.5" r="2.6" fill="#e8141c"/>
<path d="M621.3,731.3 L625.4,727.6 L629.5,731.3 L625.4,735 Z" fill="#e8141c"/>
<text transform="translate(622.8,728.1) scale(1,1.1)" font-size="7.8" font-style="italic" fill="#e8141c">699</text>
<line x1="625.4" y1="731.3" x2="625.4" y2="741" stroke="#e8141c" stroke-width="1.3"/>
<path d="M621.9,740.0 L628.7,740.0 L625.3,745.6 Z" fill="#e8141c"/>
<rect x="621.7" y="744.3" width="7.2" height="3.1" fill="#e8141c"/>
<rect x="621.7" y="742.6" width="2.3" height="6.9" fill="#e8141c"/>
<rect x="626.6" y="742.6" width="2.3" height="6.9" fill="#e8141c"/>
<text transform="translate(631.8,744.5) scale(1,1.0)" font-size="7.9" font-style="italic" fill="#e8141c">0.995</text>
</svg>
</body></html>
